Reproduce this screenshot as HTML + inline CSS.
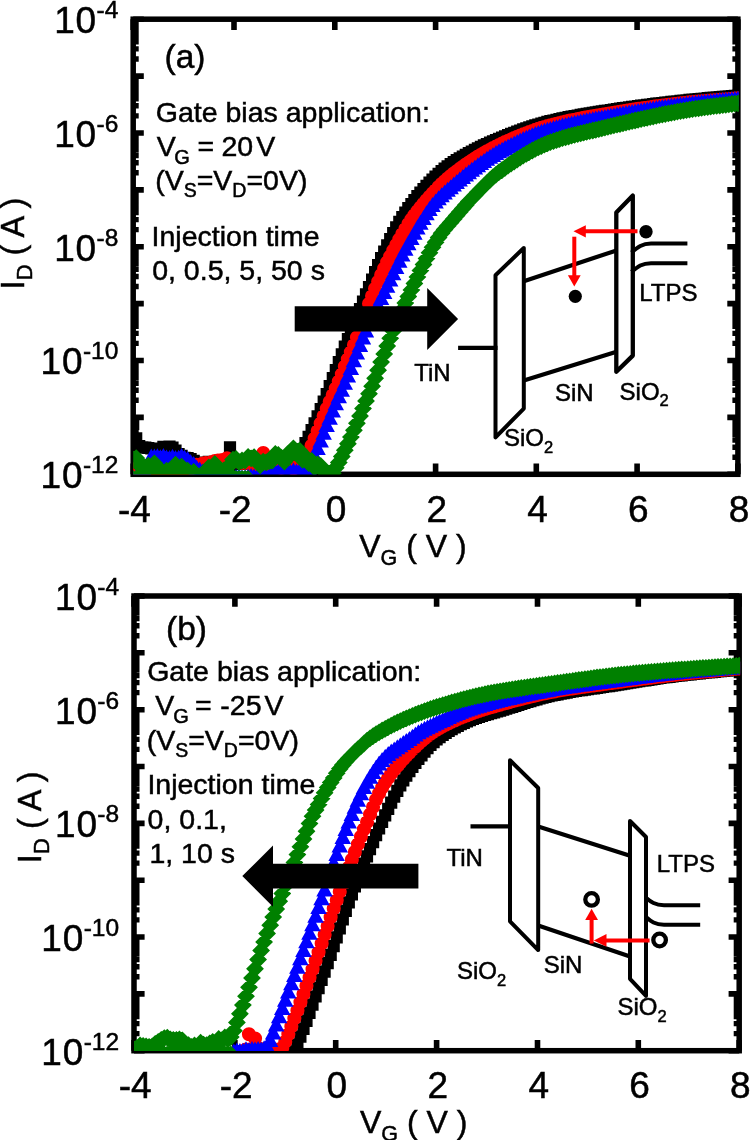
<!DOCTYPE html>
<html><head><meta charset="utf-8"><title>Transfer characteristics</title>
<style>html,body{margin:0;padding:0;background:#fff}svg{display:block}text{font-family:"Liberation Sans",sans-serif;fill:#000;stroke:#000;stroke-width:0.5px}</style>
</head><body>
<svg width="750" height="1140" viewBox="0 0 750 1140">
<rect width="750" height="1140" fill="#fff"/>
<defs>
<clipPath id="clipa"><rect x="133.2" y="19.2" width="605.7" height="455.4"/></clipPath>
<clipPath id="clipb"><rect x="134" y="596" width="606.2" height="455"/></clipPath>
</defs>
<rect x="133.2" y="19.2" width="604.7" height="455.1" fill="none" stroke="#000" stroke-width="5.5"/>
<path d="M133.2 474.3v-10.8M133.2 19.2v10.8M234 474.3v-10.8M234 19.2v10.8M334.8 474.3v-10.8M334.8 19.2v10.8M435.6 474.3v-10.8M435.6 19.2v10.8M536.3 474.3v-10.8M536.3 19.2v10.8M637.1 474.3v-10.8M637.1 19.2v10.8M737.9 474.3v-10.8M737.9 19.2v10.8M133.2 19.2h10.6M737.9 19.2h-10.6M133.2 76.1h10.6M737.9 76.1h-10.6M133.2 133h10.6M737.9 133h-10.6M133.2 189.9h10.6M737.9 189.9h-10.6M133.2 246.8h10.6M737.9 246.8h-10.6M133.2 303.6h10.6M737.9 303.6h-10.6M133.2 360.5h10.6M737.9 360.5h-10.6M133.2 417.4h10.6M737.9 417.4h-10.6M133.2 474.3h10.6M737.9 474.3h-10.6" stroke="#000" stroke-width="5.6" fill="none"/>
<path d="M133.2 59h5.5M737.9 59h-5.5M133.2 48.9h5.5M737.9 48.9h-5.5M133.2 41.8h5.5M737.9 41.8h-5.5M133.2 36.3h5.5M737.9 36.3h-5.5M133.2 31.8h5.5M737.9 31.8h-5.5M133.2 28h5.5M737.9 28h-5.5M133.2 24.7h5.5M737.9 24.7h-5.5M133.2 21.8h5.5M737.9 21.8h-5.5M133.2 115.9h5.5M737.9 115.9h-5.5M133.2 105.8h5.5M737.9 105.8h-5.5M133.2 98.7h5.5M737.9 98.7h-5.5M133.2 93.2h5.5M737.9 93.2h-5.5M133.2 88.7h5.5M737.9 88.7h-5.5M133.2 84.9h5.5M737.9 84.9h-5.5M133.2 81.6h5.5M737.9 81.6h-5.5M133.2 78.7h5.5M737.9 78.7h-5.5M133.2 172.7h5.5M737.9 172.7h-5.5M133.2 162.7h5.5M737.9 162.7h-5.5M133.2 155.6h5.5M737.9 155.6h-5.5M133.2 150.1h5.5M737.9 150.1h-5.5M133.2 145.6h5.5M737.9 145.6h-5.5M133.2 141.8h5.5M737.9 141.8h-5.5M133.2 138.5h5.5M737.9 138.5h-5.5M133.2 135.6h5.5M737.9 135.6h-5.5M133.2 229.6h5.5M737.9 229.6h-5.5M133.2 219.6h5.5M737.9 219.6h-5.5M133.2 212.5h5.5M737.9 212.5h-5.5M133.2 207h5.5M737.9 207h-5.5M133.2 202.5h5.5M737.9 202.5h-5.5M133.2 198.7h5.5M737.9 198.7h-5.5M133.2 195.4h5.5M737.9 195.4h-5.5M133.2 192.5h5.5M737.9 192.5h-5.5M133.2 286.5h5.5M737.9 286.5h-5.5M133.2 276.5h5.5M737.9 276.5h-5.5M133.2 269.4h5.5M737.9 269.4h-5.5M133.2 263.9h5.5M737.9 263.9h-5.5M133.2 259.4h5.5M737.9 259.4h-5.5M133.2 255.6h5.5M737.9 255.6h-5.5M133.2 252.3h5.5M737.9 252.3h-5.5M133.2 249.4h5.5M737.9 249.4h-5.5M133.2 343.4h5.5M737.9 343.4h-5.5M133.2 333.4h5.5M737.9 333.4h-5.5M133.2 326.3h5.5M737.9 326.3h-5.5M133.2 320.8h5.5M737.9 320.8h-5.5M133.2 316.3h5.5M737.9 316.3h-5.5M133.2 312.4h5.5M737.9 312.4h-5.5M133.2 309.2h5.5M737.9 309.2h-5.5M133.2 306.2h5.5M737.9 306.2h-5.5M133.2 400.3h5.5M737.9 400.3h-5.5M133.2 390.3h5.5M737.9 390.3h-5.5M133.2 383.2h5.5M737.9 383.2h-5.5M133.2 377.6h5.5M737.9 377.6h-5.5M133.2 373.1h5.5M737.9 373.1h-5.5M133.2 369.3h5.5M737.9 369.3h-5.5M133.2 366h5.5M737.9 366h-5.5M133.2 363.1h5.5M737.9 363.1h-5.5M133.2 457.2h5.5M737.9 457.2h-5.5M133.2 447.2h5.5M737.9 447.2h-5.5M133.2 440.1h5.5M737.9 440.1h-5.5M133.2 434.5h5.5M737.9 434.5h-5.5M133.2 430h5.5M737.9 430h-5.5M133.2 426.2h5.5M737.9 426.2h-5.5M133.2 422.9h5.5M737.9 422.9h-5.5M133.2 420h5.5M737.9 420h-5.5" stroke="#000" stroke-width="5.4" fill="none"/>
<text x="118.3" y="33.1" font-size="37" text-anchor="end"><tspan letter-spacing="0.9">10</tspan><tspan font-size="24.5" dy="-15" dx="-0.6">-4</tspan></text>
<text x="118.3" y="146.9" font-size="37" text-anchor="end"><tspan letter-spacing="0.9">10</tspan><tspan font-size="24.5" dy="-15" dx="-0.6">-6</tspan></text>
<text x="118.3" y="260.6" font-size="37" text-anchor="end"><tspan letter-spacing="0.9">10</tspan><tspan font-size="24.5" dy="-15" dx="-0.6">-8</tspan></text>
<text x="118.3" y="374.4" font-size="37" text-anchor="end"><tspan letter-spacing="0.9">10</tspan><tspan font-size="24.5" dy="-15" dx="-0.6">-10</tspan></text>
<text x="118.3" y="488.2" font-size="37" text-anchor="end"><tspan letter-spacing="0.9">10</tspan><tspan font-size="24.5" dy="-15" dx="-0.6">-12</tspan></text>
<text x="134.4" y="521.6" font-size="37" text-anchor="middle">-4</text>
<text x="235.2" y="521.6" font-size="37" text-anchor="middle">-2</text>
<text x="336" y="521.6" font-size="37" text-anchor="middle">0</text>
<text x="436.8" y="521.6" font-size="37" text-anchor="middle">2</text>
<text x="537.5" y="521.6" font-size="37" text-anchor="middle">4</text>
<text x="638.3" y="521.6" font-size="37" text-anchor="middle">6</text>
<text x="739.1" y="521.6" font-size="37" text-anchor="middle">8</text>
<text x="359.2" y="556.7" font-size="32">V<tspan font-size="21.5" dy="8">G</tspan><tspan dy="-8"> ( V )</tspan></text>
<rect x="134" y="596" width="605.2" height="454.7" fill="none" stroke="#000" stroke-width="5.5"/>
<path d="M134 1050.7v-10.8M134 596v10.8M234.9 1050.7v-10.8M234.9 596v10.8M335.7 1050.7v-10.8M335.7 596v10.8M436.6 1050.7v-10.8M436.6 596v10.8M537.5 1050.7v-10.8M537.5 596v10.8M638.3 1050.7v-10.8M638.3 596v10.8M739.2 1050.7v-10.8M739.2 596v10.8M134 596h10.6M739.2 596h-10.6M134 652.8h10.6M739.2 652.8h-10.6M134 709.7h10.6M739.2 709.7h-10.6M134 766.5h10.6M739.2 766.5h-10.6M134 823.4h10.6M739.2 823.4h-10.6M134 880.2h10.6M739.2 880.2h-10.6M134 937h10.6M739.2 937h-10.6M134 993.9h10.6M739.2 993.9h-10.6M134 1050.7h10.6M739.2 1050.7h-10.6" stroke="#000" stroke-width="5.6" fill="none"/>
<path d="M134 635.7h5.5M739.2 635.7h-5.5M134 625.7h5.5M739.2 625.7h-5.5M134 618.6h5.5M739.2 618.6h-5.5M134 613.1h5.5M739.2 613.1h-5.5M134 608.6h5.5M739.2 608.6h-5.5M134 604.8h5.5M739.2 604.8h-5.5M134 601.5h5.5M739.2 601.5h-5.5M134 598.6h5.5M739.2 598.6h-5.5M134 692.6h5.5M739.2 692.6h-5.5M134 682.6h5.5M739.2 682.6h-5.5M134 675.5h5.5M739.2 675.5h-5.5M134 669.9h5.5M739.2 669.9h-5.5M134 665.4h5.5M739.2 665.4h-5.5M134 661.6h5.5M739.2 661.6h-5.5M134 658.3h5.5M739.2 658.3h-5.5M134 655.4h5.5M739.2 655.4h-5.5M134 749.4h5.5M739.2 749.4h-5.5M134 739.4h5.5M739.2 739.4h-5.5M134 732.3h5.5M739.2 732.3h-5.5M134 726.8h5.5M739.2 726.8h-5.5M134 722.3h5.5M739.2 722.3h-5.5M134 718.5h5.5M739.2 718.5h-5.5M134 715.2h5.5M739.2 715.2h-5.5M134 712.3h5.5M739.2 712.3h-5.5M134 806.2h5.5M739.2 806.2h-5.5M134 796.2h5.5M739.2 796.2h-5.5M134 789.1h5.5M739.2 789.1h-5.5M134 783.6h5.5M739.2 783.6h-5.5M134 779.1h5.5M739.2 779.1h-5.5M134 775.3h5.5M739.2 775.3h-5.5M134 772h5.5M739.2 772h-5.5M134 769.1h5.5M739.2 769.1h-5.5M134 863.1h5.5M739.2 863.1h-5.5M134 853.1h5.5M739.2 853.1h-5.5M134 846h5.5M739.2 846h-5.5M134 840.5h5.5M739.2 840.5h-5.5M134 836h5.5M739.2 836h-5.5M134 832.2h5.5M739.2 832.2h-5.5M134 828.9h5.5M739.2 828.9h-5.5M134 826h5.5M739.2 826h-5.5M134 919.9h5.5M739.2 919.9h-5.5M134 909.9h5.5M739.2 909.9h-5.5M134 902.8h5.5M739.2 902.8h-5.5M134 897.3h5.5M739.2 897.3h-5.5M134 892.8h5.5M739.2 892.8h-5.5M134 889h5.5M739.2 889h-5.5M134 885.7h5.5M739.2 885.7h-5.5M134 882.8h5.5M739.2 882.8h-5.5M134 976.8h5.5M739.2 976.8h-5.5M134 966.7h5.5M739.2 966.7h-5.5M134 959.6h5.5M739.2 959.6h-5.5M134 954.1h5.5M739.2 954.1h-5.5M134 949.6h5.5M739.2 949.6h-5.5M134 945.8h5.5M739.2 945.8h-5.5M134 942.5h5.5M739.2 942.5h-5.5M134 939.6h5.5M739.2 939.6h-5.5M134 1033.6h5.5M739.2 1033.6h-5.5M134 1023.6h5.5M739.2 1023.6h-5.5M134 1016.5h5.5M739.2 1016.5h-5.5M134 1011h5.5M739.2 1011h-5.5M134 1006.5h5.5M739.2 1006.5h-5.5M134 1002.7h5.5M739.2 1002.7h-5.5M134 999.4h5.5M739.2 999.4h-5.5M134 996.5h5.5M739.2 996.5h-5.5" stroke="#000" stroke-width="5.4" fill="none"/>
<text x="119.1" y="609.9" font-size="37" text-anchor="end"><tspan letter-spacing="0.9">10</tspan><tspan font-size="24.5" dy="-15" dx="-0.6">-4</tspan></text>
<text x="119.1" y="723.6" font-size="37" text-anchor="end"><tspan letter-spacing="0.9">10</tspan><tspan font-size="24.5" dy="-15" dx="-0.6">-6</tspan></text>
<text x="119.1" y="837.2" font-size="37" text-anchor="end"><tspan letter-spacing="0.9">10</tspan><tspan font-size="24.5" dy="-15" dx="-0.6">-8</tspan></text>
<text x="119.1" y="950.9" font-size="37" text-anchor="end"><tspan letter-spacing="0.9">10</tspan><tspan font-size="24.5" dy="-15" dx="-0.6">-10</tspan></text>
<text x="119.1" y="1064.6" font-size="37" text-anchor="end"><tspan letter-spacing="0.9">10</tspan><tspan font-size="24.5" dy="-15" dx="-0.6">-12</tspan></text>
<text x="135.2" y="1098" font-size="37" text-anchor="middle">-4</text>
<text x="236.1" y="1098" font-size="37" text-anchor="middle">-2</text>
<text x="336.9" y="1098" font-size="37" text-anchor="middle">0</text>
<text x="437.8" y="1098" font-size="37" text-anchor="middle">2</text>
<text x="538.7" y="1098" font-size="37" text-anchor="middle">4</text>
<text x="639.5" y="1098" font-size="37" text-anchor="middle">6</text>
<text x="740.4" y="1098" font-size="37" text-anchor="middle">8</text>
<text x="360" y="1133.1" font-size="32">V<tspan font-size="21.5" dy="8">G</tspan><tspan dy="-8"> ( V )</tspan></text>
<g transform="translate(24 289.5) rotate(-90)" font-size="32.5">
<text x="0" y="0">I</text><text x="9.3" y="8" font-size="22">D</text><text x="34.1" y="0">(</text><text x="52" y="0">A</text><text x="80.9" y="0">)</text>
</g>
<g transform="translate(40.5 863.2) rotate(-90)" font-size="32.5">
<text x="0" y="0">I</text><text x="9.3" y="8" font-size="22">D</text><text x="34.1" y="0">(</text><text x="52" y="0">A</text><text x="80.9" y="0">)</text>
</g>
<g clip-path="url(#clipa)">
<path fill="#000" d="M127.1 417.8h12.2v12.2h-12.2zM130.1 432.3h12.2v12.2h-12.2zM133.1 440.1h12.2v12.2h-12.2zM136.2 441.2h12.2v12.2h-12.2zM139.2 441.5h12.2v12.2h-12.2zM142.2 441.9h12.2v12.2h-12.2zM145.2 442.4h12.2v12.2h-12.2zM148.3 442.7h12.2v12.2h-12.2zM151.3 442.7h12.2v12.2h-12.2zM154.3 442.6h12.2v12.2h-12.2zM157.3 440.8h12.2v12.2h-12.2zM160.4 441.2h12.2v12.2h-12.2zM163.4 440.4h12.2v12.2h-12.2zM166.4 441.5h12.2v12.2h-12.2zM169.4 444.4h12.2v12.2h-12.2zM172.5 448.1h12.2v12.2h-12.2zM175.5 449.7h12.2v12.2h-12.2zM178.5 451.8h12.2v12.2h-12.2zM181.5 452h12.2v12.2h-12.2zM184.5 453h12.2v12.2h-12.2zM187.6 454.7h12.2v12.2h-12.2zM190.6 456.6h12.2v12.2h-12.2zM193.6 458.5h12.2v12.2h-12.2zM196.6 458.6h12.2v12.2h-12.2zM199.7 457.6h12.2v12.2h-12.2zM202.7 455.8h12.2v12.2h-12.2zM205.7 458h12.2v12.2h-12.2zM208.7 458h12.2v12.2h-12.2zM211.8 458h12.2v12.2h-12.2zM214.8 458.9h12.2v12.2h-12.2zM217.8 457.4h12.2v12.2h-12.2zM220.8 457.7h12.2v12.2h-12.2zM223.9 441.2h12.2v12.2h-12.2zM226.9 457.7h12.2v12.2h-12.2zM229.9 457.9h12.2v12.2h-12.2zM232.9 457.2h12.2v12.2h-12.2zM235.9 457.7h12.2v12.2h-12.2zM239 457.9h12.2v12.2h-12.2zM242 456.5h12.2v12.2h-12.2zM245 457.6h12.2v12.2h-12.2zM248 457.9h12.2v12.2h-12.2zM251.1 457.4h12.2v12.2h-12.2zM254.1 456.5h12.2v12.2h-12.2zM257.1 457.4h12.2v12.2h-12.2zM260.1 456.3h12.2v12.2h-12.2zM263.2 456.8h12.2v12.2h-12.2zM266.2 457.6h12.2v12.2h-12.2zM269.2 456.6h12.2v12.2h-12.2zM272.2 456.6h12.2v12.2h-12.2zM275.3 456.3h12.2v12.2h-12.2zM278.3 456.1h12.2v12.2h-12.2zM281.3 457h12.2v12.2h-12.2zM284.3 455.9h12.2v12.2h-12.2zM287.3 455.1h12.2v12.2h-12.2zM290.4 453h12.2v12.2h-12.2zM293.4 448.6h12.2v12.2h-12.2zM296.4 443.2h12.2v12.2h-12.2zM299.4 437.1h12.2v12.2h-12.2zM302.5 430.8h12.2v12.2h-12.2zM305.5 424.1h12.2v12.2h-12.2zM308.5 417.2h12.2v12.2h-12.2zM311.5 410.2h12.2v12.2h-12.2zM314.6 402.9h12.2v12.2h-12.2zM317.6 395.6h12.2v12.2h-12.2zM320.6 388.1h12.2v12.2h-12.2zM323.6 380.1h12.2v12.2h-12.2zM326.7 372h12.2v12.2h-12.2zM329.7 363.9h12.2v12.2h-12.2zM332.7 356h12.2v12.2h-12.2zM335.7 348.2h12.2v12.2h-12.2zM338.7 340.5h12.2v12.2h-12.2zM341.8 332.9h12.2v12.2h-12.2zM344.8 325.3h12.2v12.2h-12.2zM347.8 317.8h12.2v12.2h-12.2zM350.8 310.4h12.2v12.2h-12.2zM353.9 303h12.2v12.2h-12.2zM356.9 295.6h12.2v12.2h-12.2zM359.9 288.3h12.2v12.2h-12.2zM362.9 280.9h12.2v12.2h-12.2zM366 273.4h12.2v12.2h-12.2zM369 266.1h12.2v12.2h-12.2zM372 258.9h12.2v12.2h-12.2zM375 252.1h12.2v12.2h-12.2zM378.1 245.6h12.2v12.2h-12.2zM381.1 239.2h12.2v12.2h-12.2zM384.1 233h12.2v12.2h-12.2zM387.1 227h12.2v12.2h-12.2zM390.1 221.2h12.2v12.2h-12.2zM393.2 215.8h12.2v12.2h-12.2zM396.2 210.9h12.2v12.2h-12.2zM399.2 206.4h12.2v12.2h-12.2zM402.2 202.1h12.2v12.2h-12.2zM405.3 197.9h12.2v12.2h-12.2zM408.3 194h12.2v12.2h-12.2zM411.3 190.1h12.2v12.2h-12.2zM414.3 186.5h12.2v12.2h-12.2zM417.4 183h12.2v12.2h-12.2zM420.4 179.7h12.2v12.2h-12.2zM423.4 176.5h12.2v12.2h-12.2zM426.4 173.4h12.2v12.2h-12.2zM429.4 170.5h12.2v12.2h-12.2zM432.5 167.7h12.2v12.2h-12.2zM435.5 165.1h12.2v12.2h-12.2zM438.5 162.6h12.2v12.2h-12.2zM441.5 160.2h12.2v12.2h-12.2zM444.6 158h12.2v12.2h-12.2zM447.6 155.9h12.2v12.2h-12.2zM450.6 154h12.2v12.2h-12.2zM453.6 152.2h12.2v12.2h-12.2zM456.7 150.4h12.2v12.2h-12.2zM459.7 148.7h12.2v12.2h-12.2zM462.7 147h12.2v12.2h-12.2zM465.7 145.4h12.2v12.2h-12.2zM468.8 143.8h12.2v12.2h-12.2zM471.8 142.3h12.2v12.2h-12.2zM474.8 140.8h12.2v12.2h-12.2zM477.8 139.3h12.2v12.2h-12.2zM480.8 137.9h12.2v12.2h-12.2zM483.9 136.6h12.2v12.2h-12.2zM486.9 135.2h12.2v12.2h-12.2zM489.9 133.9h12.2v12.2h-12.2zM492.9 132.7h12.2v12.2h-12.2zM496 131.4h12.2v12.2h-12.2zM499 130.2h12.2v12.2h-12.2zM502 129h12.2v12.2h-12.2zM505 127.8h12.2v12.2h-12.2zM508.1 126.7h12.2v12.2h-12.2zM511.1 125.5h12.2v12.2h-12.2zM514.1 124.4h12.2v12.2h-12.2zM517.1 123.3h12.2v12.2h-12.2zM520.2 122.3h12.2v12.2h-12.2zM523.2 121.3h12.2v12.2h-12.2zM526.2 120.3h12.2v12.2h-12.2zM529.2 119.3h12.2v12.2h-12.2zM532.2 118.4h12.2v12.2h-12.2zM535.3 117.5h12.2v12.2h-12.2zM538.3 116.7h12.2v12.2h-12.2zM541.3 115.8h12.2v12.2h-12.2zM544.3 115.1h12.2v12.2h-12.2zM547.4 114.4h12.2v12.2h-12.2zM550.4 113.7h12.2v12.2h-12.2zM553.4 113h12.2v12.2h-12.2zM556.4 112.3h12.2v12.2h-12.2zM559.5 111.7h12.2v12.2h-12.2zM562.5 111.1h12.2v12.2h-12.2zM565.5 110.5h12.2v12.2h-12.2zM568.5 109.9h12.2v12.2h-12.2zM571.6 109.4h12.2v12.2h-12.2zM574.6 108.8h12.2v12.2h-12.2zM577.6 108.3h12.2v12.2h-12.2zM580.6 107.8h12.2v12.2h-12.2zM583.6 107.3h12.2v12.2h-12.2zM586.7 106.8h12.2v12.2h-12.2zM589.7 106.3h12.2v12.2h-12.2zM592.7 105.8h12.2v12.2h-12.2zM595.7 105.3h12.2v12.2h-12.2zM598.8 104.8h12.2v12.2h-12.2zM601.8 104.4h12.2v12.2h-12.2zM604.8 103.9h12.2v12.2h-12.2zM607.8 103.4h12.2v12.2h-12.2zM610.9 103h12.2v12.2h-12.2zM613.9 102.6h12.2v12.2h-12.2zM616.9 102.1h12.2v12.2h-12.2zM619.9 101.7h12.2v12.2h-12.2zM623 101.3h12.2v12.2h-12.2zM626 100.8h12.2v12.2h-12.2zM629 100.4h12.2v12.2h-12.2zM632 100h12.2v12.2h-12.2zM635 99.6h12.2v12.2h-12.2zM638.1 99.2h12.2v12.2h-12.2zM641.1 98.8h12.2v12.2h-12.2zM644.1 98.4h12.2v12.2h-12.2zM647.1 98h12.2v12.2h-12.2zM650.2 97.6h12.2v12.2h-12.2zM653.2 97.3h12.2v12.2h-12.2zM656.2 96.9h12.2v12.2h-12.2zM659.2 96.5h12.2v12.2h-12.2zM662.3 96.2h12.2v12.2h-12.2zM665.3 95.8h12.2v12.2h-12.2zM668.3 95.5h12.2v12.2h-12.2zM671.3 95.2h12.2v12.2h-12.2zM674.4 94.8h12.2v12.2h-12.2zM677.4 94.5h12.2v12.2h-12.2zM680.4 94.2h12.2v12.2h-12.2zM683.4 93.8h12.2v12.2h-12.2zM686.4 93.5h12.2v12.2h-12.2zM689.5 93.2h12.2v12.2h-12.2zM692.5 92.9h12.2v12.2h-12.2zM695.5 92.7h12.2v12.2h-12.2zM698.5 92.4h12.2v12.2h-12.2zM701.6 92.1h12.2v12.2h-12.2zM704.6 91.8h12.2v12.2h-12.2zM707.6 91.6h12.2v12.2h-12.2zM710.6 91.3h12.2v12.2h-12.2zM713.7 91h12.2v12.2h-12.2zM716.7 90.8h12.2v12.2h-12.2zM719.7 90.5h12.2v12.2h-12.2zM722.7 90.3h12.2v12.2h-12.2zM725.8 90h12.2v12.2h-12.2zM728.8 89.8h12.2v12.2h-12.2zM731.8 89.5h12.2v12.2h-12.2z"/>
<path fill="#ff0000" d="M126.1 469.8a7.05 7.05 0 1 0 14.1 0a7.05 7.05 0 1 0 -14.1 0zM129.2 468.9a7.05 7.05 0 1 0 14.1 0a7.05 7.05 0 1 0 -14.1 0zM132.2 470.1a7.05 7.05 0 1 0 14.1 0a7.05 7.05 0 1 0 -14.1 0zM135.2 469.8a7.05 7.05 0 1 0 14.1 0a7.05 7.05 0 1 0 -14.1 0zM138.2 469.8a7.05 7.05 0 1 0 14.1 0a7.05 7.05 0 1 0 -14.1 0zM141.3 469.6a7.05 7.05 0 1 0 14.1 0a7.05 7.05 0 1 0 -14.1 0zM144.3 469.3a7.05 7.05 0 1 0 14.1 0a7.05 7.05 0 1 0 -14.1 0zM147.3 470.3a7.05 7.05 0 1 0 14.1 0a7.05 7.05 0 1 0 -14.1 0zM150.3 469.5a7.05 7.05 0 1 0 14.1 0a7.05 7.05 0 1 0 -14.1 0zM153.4 469.4a7.05 7.05 0 1 0 14.1 0a7.05 7.05 0 1 0 -14.1 0zM156.4 470.3a7.05 7.05 0 1 0 14.1 0a7.05 7.05 0 1 0 -14.1 0zM159.4 470.1a7.05 7.05 0 1 0 14.1 0a7.05 7.05 0 1 0 -14.1 0zM162.4 469.1a7.05 7.05 0 1 0 14.1 0a7.05 7.05 0 1 0 -14.1 0zM165.5 470a7.05 7.05 0 1 0 14.1 0a7.05 7.05 0 1 0 -14.1 0zM168.5 469.2a7.05 7.05 0 1 0 14.1 0a7.05 7.05 0 1 0 -14.1 0zM171.5 470.7a7.05 7.05 0 1 0 14.1 0a7.05 7.05 0 1 0 -14.1 0zM174.5 470.8a7.05 7.05 0 1 0 14.1 0a7.05 7.05 0 1 0 -14.1 0zM177.5 470a7.05 7.05 0 1 0 14.1 0a7.05 7.05 0 1 0 -14.1 0zM180.6 470.8a7.05 7.05 0 1 0 14.1 0a7.05 7.05 0 1 0 -14.1 0zM183.6 468.6a7.05 7.05 0 1 0 14.1 0a7.05 7.05 0 1 0 -14.1 0zM186.6 467.6a7.05 7.05 0 1 0 14.1 0a7.05 7.05 0 1 0 -14.1 0zM189.6 464.8a7.05 7.05 0 1 0 14.1 0a7.05 7.05 0 1 0 -14.1 0zM192.7 465a7.05 7.05 0 1 0 14.1 0a7.05 7.05 0 1 0 -14.1 0zM195.7 463.6a7.05 7.05 0 1 0 14.1 0a7.05 7.05 0 1 0 -14.1 0zM198.7 463a7.05 7.05 0 1 0 14.1 0a7.05 7.05 0 1 0 -14.1 0zM201.7 463.5a7.05 7.05 0 1 0 14.1 0a7.05 7.05 0 1 0 -14.1 0zM204.8 462a7.05 7.05 0 1 0 14.1 0a7.05 7.05 0 1 0 -14.1 0zM207.8 461.1a7.05 7.05 0 1 0 14.1 0a7.05 7.05 0 1 0 -14.1 0zM210.8 460.6a7.05 7.05 0 1 0 14.1 0a7.05 7.05 0 1 0 -14.1 0zM213.8 460.2a7.05 7.05 0 1 0 14.1 0a7.05 7.05 0 1 0 -14.1 0zM216.9 459.7a7.05 7.05 0 1 0 14.1 0a7.05 7.05 0 1 0 -14.1 0zM219.9 458.3a7.05 7.05 0 1 0 14.1 0a7.05 7.05 0 1 0 -14.1 0zM222.9 460a7.05 7.05 0 1 0 14.1 0a7.05 7.05 0 1 0 -14.1 0zM225.9 460.3a7.05 7.05 0 1 0 14.1 0a7.05 7.05 0 1 0 -14.1 0zM228.9 461.1a7.05 7.05 0 1 0 14.1 0a7.05 7.05 0 1 0 -14.1 0zM232 461.5a7.05 7.05 0 1 0 14.1 0a7.05 7.05 0 1 0 -14.1 0zM235 463a7.05 7.05 0 1 0 14.1 0a7.05 7.05 0 1 0 -14.1 0zM238 463a7.05 7.05 0 1 0 14.1 0a7.05 7.05 0 1 0 -14.1 0zM241 462.5a7.05 7.05 0 1 0 14.1 0a7.05 7.05 0 1 0 -14.1 0zM244.1 464.2a7.05 7.05 0 1 0 14.1 0a7.05 7.05 0 1 0 -14.1 0zM247.1 465.3a7.05 7.05 0 1 0 14.1 0a7.05 7.05 0 1 0 -14.1 0zM250.1 464.7a7.05 7.05 0 1 0 14.1 0a7.05 7.05 0 1 0 -14.1 0zM253.1 466a7.05 7.05 0 1 0 14.1 0a7.05 7.05 0 1 0 -14.1 0zM256.2 453a7.05 7.05 0 1 0 14.1 0a7.05 7.05 0 1 0 -14.1 0zM259.2 465.7a7.05 7.05 0 1 0 14.1 0a7.05 7.05 0 1 0 -14.1 0zM262.2 465.6a7.05 7.05 0 1 0 14.1 0a7.05 7.05 0 1 0 -14.1 0zM265.2 465.8a7.05 7.05 0 1 0 14.1 0a7.05 7.05 0 1 0 -14.1 0zM268.3 466.9a7.05 7.05 0 1 0 14.1 0a7.05 7.05 0 1 0 -14.1 0zM271.3 466.5a7.05 7.05 0 1 0 14.1 0a7.05 7.05 0 1 0 -14.1 0zM274.3 467.7a7.05 7.05 0 1 0 14.1 0a7.05 7.05 0 1 0 -14.1 0zM277.3 467a7.05 7.05 0 1 0 14.1 0a7.05 7.05 0 1 0 -14.1 0zM280.3 466.1a7.05 7.05 0 1 0 14.1 0a7.05 7.05 0 1 0 -14.1 0zM283.4 466.9a7.05 7.05 0 1 0 14.1 0a7.05 7.05 0 1 0 -14.1 0zM286.4 468.2a7.05 7.05 0 1 0 14.1 0a7.05 7.05 0 1 0 -14.1 0zM289.4 467a7.05 7.05 0 1 0 14.1 0a7.05 7.05 0 1 0 -14.1 0zM292.4 465.5a7.05 7.05 0 1 0 14.1 0a7.05 7.05 0 1 0 -14.1 0zM295.5 463.5a7.05 7.05 0 1 0 14.1 0a7.05 7.05 0 1 0 -14.1 0zM298.5 458.8a7.05 7.05 0 1 0 14.1 0a7.05 7.05 0 1 0 -14.1 0zM301.5 452.9a7.05 7.05 0 1 0 14.1 0a7.05 7.05 0 1 0 -14.1 0zM304.5 445.8a7.05 7.05 0 1 0 14.1 0a7.05 7.05 0 1 0 -14.1 0zM307.6 438.5a7.05 7.05 0 1 0 14.1 0a7.05 7.05 0 1 0 -14.1 0zM310.6 431a7.05 7.05 0 1 0 14.1 0a7.05 7.05 0 1 0 -14.1 0zM313.6 423.4a7.05 7.05 0 1 0 14.1 0a7.05 7.05 0 1 0 -14.1 0zM316.6 416a7.05 7.05 0 1 0 14.1 0a7.05 7.05 0 1 0 -14.1 0zM319.7 408.8a7.05 7.05 0 1 0 14.1 0a7.05 7.05 0 1 0 -14.1 0zM322.7 401.7a7.05 7.05 0 1 0 14.1 0a7.05 7.05 0 1 0 -14.1 0zM325.7 395a7.05 7.05 0 1 0 14.1 0a7.05 7.05 0 1 0 -14.1 0zM328.7 388.5a7.05 7.05 0 1 0 14.1 0a7.05 7.05 0 1 0 -14.1 0zM331.7 381.6a7.05 7.05 0 1 0 14.1 0a7.05 7.05 0 1 0 -14.1 0zM334.8 374.2a7.05 7.05 0 1 0 14.1 0a7.05 7.05 0 1 0 -14.1 0zM337.8 366.6a7.05 7.05 0 1 0 14.1 0a7.05 7.05 0 1 0 -14.1 0zM340.8 359.3a7.05 7.05 0 1 0 14.1 0a7.05 7.05 0 1 0 -14.1 0zM343.8 352.3a7.05 7.05 0 1 0 14.1 0a7.05 7.05 0 1 0 -14.1 0zM346.9 345.1a7.05 7.05 0 1 0 14.1 0a7.05 7.05 0 1 0 -14.1 0zM349.9 337.4a7.05 7.05 0 1 0 14.1 0a7.05 7.05 0 1 0 -14.1 0zM352.9 329.1a7.05 7.05 0 1 0 14.1 0a7.05 7.05 0 1 0 -14.1 0zM355.9 320.6a7.05 7.05 0 1 0 14.1 0a7.05 7.05 0 1 0 -14.1 0zM359 312.1a7.05 7.05 0 1 0 14.1 0a7.05 7.05 0 1 0 -14.1 0zM362 303.8a7.05 7.05 0 1 0 14.1 0a7.05 7.05 0 1 0 -14.1 0zM365 296a7.05 7.05 0 1 0 14.1 0a7.05 7.05 0 1 0 -14.1 0zM368 288.7a7.05 7.05 0 1 0 14.1 0a7.05 7.05 0 1 0 -14.1 0zM371.1 281.8a7.05 7.05 0 1 0 14.1 0a7.05 7.05 0 1 0 -14.1 0zM374.1 275a7.05 7.05 0 1 0 14.1 0a7.05 7.05 0 1 0 -14.1 0zM377.1 268.6a7.05 7.05 0 1 0 14.1 0a7.05 7.05 0 1 0 -14.1 0zM380.1 262.3a7.05 7.05 0 1 0 14.1 0a7.05 7.05 0 1 0 -14.1 0zM383.1 256.4a7.05 7.05 0 1 0 14.1 0a7.05 7.05 0 1 0 -14.1 0zM386.2 250.6a7.05 7.05 0 1 0 14.1 0a7.05 7.05 0 1 0 -14.1 0zM389.2 245a7.05 7.05 0 1 0 14.1 0a7.05 7.05 0 1 0 -14.1 0zM392.2 239.5a7.05 7.05 0 1 0 14.1 0a7.05 7.05 0 1 0 -14.1 0zM395.2 234.1a7.05 7.05 0 1 0 14.1 0a7.05 7.05 0 1 0 -14.1 0zM398.3 229a7.05 7.05 0 1 0 14.1 0a7.05 7.05 0 1 0 -14.1 0zM401.3 224.1a7.05 7.05 0 1 0 14.1 0a7.05 7.05 0 1 0 -14.1 0zM404.3 219.5a7.05 7.05 0 1 0 14.1 0a7.05 7.05 0 1 0 -14.1 0zM407.3 215.2a7.05 7.05 0 1 0 14.1 0a7.05 7.05 0 1 0 -14.1 0zM410.4 211.3a7.05 7.05 0 1 0 14.1 0a7.05 7.05 0 1 0 -14.1 0zM413.4 207.4a7.05 7.05 0 1 0 14.1 0a7.05 7.05 0 1 0 -14.1 0zM416.4 203.7a7.05 7.05 0 1 0 14.1 0a7.05 7.05 0 1 0 -14.1 0zM419.4 200.2a7.05 7.05 0 1 0 14.1 0a7.05 7.05 0 1 0 -14.1 0zM422.5 196.7a7.05 7.05 0 1 0 14.1 0a7.05 7.05 0 1 0 -14.1 0zM425.5 193.4a7.05 7.05 0 1 0 14.1 0a7.05 7.05 0 1 0 -14.1 0zM428.5 190.2a7.05 7.05 0 1 0 14.1 0a7.05 7.05 0 1 0 -14.1 0zM431.5 187.1a7.05 7.05 0 1 0 14.1 0a7.05 7.05 0 1 0 -14.1 0zM434.5 184.1a7.05 7.05 0 1 0 14.1 0a7.05 7.05 0 1 0 -14.1 0zM437.6 181.3a7.05 7.05 0 1 0 14.1 0a7.05 7.05 0 1 0 -14.1 0zM440.6 178.6a7.05 7.05 0 1 0 14.1 0a7.05 7.05 0 1 0 -14.1 0zM443.6 176a7.05 7.05 0 1 0 14.1 0a7.05 7.05 0 1 0 -14.1 0zM446.6 173.6a7.05 7.05 0 1 0 14.1 0a7.05 7.05 0 1 0 -14.1 0zM449.7 171.2a7.05 7.05 0 1 0 14.1 0a7.05 7.05 0 1 0 -14.1 0zM452.7 168.9a7.05 7.05 0 1 0 14.1 0a7.05 7.05 0 1 0 -14.1 0zM455.7 166.7a7.05 7.05 0 1 0 14.1 0a7.05 7.05 0 1 0 -14.1 0zM458.7 164.6a7.05 7.05 0 1 0 14.1 0a7.05 7.05 0 1 0 -14.1 0zM461.8 162.5a7.05 7.05 0 1 0 14.1 0a7.05 7.05 0 1 0 -14.1 0zM464.8 160.5a7.05 7.05 0 1 0 14.1 0a7.05 7.05 0 1 0 -14.1 0zM467.8 158.5a7.05 7.05 0 1 0 14.1 0a7.05 7.05 0 1 0 -14.1 0zM470.8 156.6a7.05 7.05 0 1 0 14.1 0a7.05 7.05 0 1 0 -14.1 0zM473.9 154.8a7.05 7.05 0 1 0 14.1 0a7.05 7.05 0 1 0 -14.1 0zM476.9 153a7.05 7.05 0 1 0 14.1 0a7.05 7.05 0 1 0 -14.1 0zM479.9 151.3a7.05 7.05 0 1 0 14.1 0a7.05 7.05 0 1 0 -14.1 0zM482.9 149.7a7.05 7.05 0 1 0 14.1 0a7.05 7.05 0 1 0 -14.1 0zM485.9 148a7.05 7.05 0 1 0 14.1 0a7.05 7.05 0 1 0 -14.1 0zM489 146.5a7.05 7.05 0 1 0 14.1 0a7.05 7.05 0 1 0 -14.1 0zM492 145a7.05 7.05 0 1 0 14.1 0a7.05 7.05 0 1 0 -14.1 0zM495 143.5a7.05 7.05 0 1 0 14.1 0a7.05 7.05 0 1 0 -14.1 0zM498 142.1a7.05 7.05 0 1 0 14.1 0a7.05 7.05 0 1 0 -14.1 0zM501.1 140.8a7.05 7.05 0 1 0 14.1 0a7.05 7.05 0 1 0 -14.1 0zM504.1 139.4a7.05 7.05 0 1 0 14.1 0a7.05 7.05 0 1 0 -14.1 0zM507.1 138.1a7.05 7.05 0 1 0 14.1 0a7.05 7.05 0 1 0 -14.1 0zM510.1 136.8a7.05 7.05 0 1 0 14.1 0a7.05 7.05 0 1 0 -14.1 0zM513.2 135.6a7.05 7.05 0 1 0 14.1 0a7.05 7.05 0 1 0 -14.1 0zM516.2 134.4a7.05 7.05 0 1 0 14.1 0a7.05 7.05 0 1 0 -14.1 0zM519.2 133.2a7.05 7.05 0 1 0 14.1 0a7.05 7.05 0 1 0 -14.1 0zM522.2 132a7.05 7.05 0 1 0 14.1 0a7.05 7.05 0 1 0 -14.1 0zM525.3 131a7.05 7.05 0 1 0 14.1 0a7.05 7.05 0 1 0 -14.1 0zM528.3 129.9a7.05 7.05 0 1 0 14.1 0a7.05 7.05 0 1 0 -14.1 0zM531.3 128.9a7.05 7.05 0 1 0 14.1 0a7.05 7.05 0 1 0 -14.1 0zM534.3 127.9a7.05 7.05 0 1 0 14.1 0a7.05 7.05 0 1 0 -14.1 0zM537.3 127a7.05 7.05 0 1 0 14.1 0a7.05 7.05 0 1 0 -14.1 0zM540.4 126.1a7.05 7.05 0 1 0 14.1 0a7.05 7.05 0 1 0 -14.1 0zM543.4 125.3a7.05 7.05 0 1 0 14.1 0a7.05 7.05 0 1 0 -14.1 0zM546.4 124.5a7.05 7.05 0 1 0 14.1 0a7.05 7.05 0 1 0 -14.1 0zM549.4 123.7a7.05 7.05 0 1 0 14.1 0a7.05 7.05 0 1 0 -14.1 0zM552.5 123a7.05 7.05 0 1 0 14.1 0a7.05 7.05 0 1 0 -14.1 0zM555.5 122.3a7.05 7.05 0 1 0 14.1 0a7.05 7.05 0 1 0 -14.1 0zM558.5 121.6a7.05 7.05 0 1 0 14.1 0a7.05 7.05 0 1 0 -14.1 0zM561.5 120.9a7.05 7.05 0 1 0 14.1 0a7.05 7.05 0 1 0 -14.1 0zM564.6 120.3a7.05 7.05 0 1 0 14.1 0a7.05 7.05 0 1 0 -14.1 0zM567.6 119.7a7.05 7.05 0 1 0 14.1 0a7.05 7.05 0 1 0 -14.1 0zM570.6 119.1a7.05 7.05 0 1 0 14.1 0a7.05 7.05 0 1 0 -14.1 0zM573.6 118.5a7.05 7.05 0 1 0 14.1 0a7.05 7.05 0 1 0 -14.1 0zM576.7 117.9a7.05 7.05 0 1 0 14.1 0a7.05 7.05 0 1 0 -14.1 0zM579.7 117.3a7.05 7.05 0 1 0 14.1 0a7.05 7.05 0 1 0 -14.1 0zM582.7 116.8a7.05 7.05 0 1 0 14.1 0a7.05 7.05 0 1 0 -14.1 0zM585.7 116.3a7.05 7.05 0 1 0 14.1 0a7.05 7.05 0 1 0 -14.1 0zM588.7 115.7a7.05 7.05 0 1 0 14.1 0a7.05 7.05 0 1 0 -14.1 0zM591.8 115.2a7.05 7.05 0 1 0 14.1 0a7.05 7.05 0 1 0 -14.1 0zM594.8 114.7a7.05 7.05 0 1 0 14.1 0a7.05 7.05 0 1 0 -14.1 0zM597.8 114.2a7.05 7.05 0 1 0 14.1 0a7.05 7.05 0 1 0 -14.1 0zM600.8 113.7a7.05 7.05 0 1 0 14.1 0a7.05 7.05 0 1 0 -14.1 0zM603.9 113.2a7.05 7.05 0 1 0 14.1 0a7.05 7.05 0 1 0 -14.1 0zM606.9 112.7a7.05 7.05 0 1 0 14.1 0a7.05 7.05 0 1 0 -14.1 0zM609.9 112.2a7.05 7.05 0 1 0 14.1 0a7.05 7.05 0 1 0 -14.1 0zM612.9 111.7a7.05 7.05 0 1 0 14.1 0a7.05 7.05 0 1 0 -14.1 0zM616 111.2a7.05 7.05 0 1 0 14.1 0a7.05 7.05 0 1 0 -14.1 0zM619 110.8a7.05 7.05 0 1 0 14.1 0a7.05 7.05 0 1 0 -14.1 0zM622 110.3a7.05 7.05 0 1 0 14.1 0a7.05 7.05 0 1 0 -14.1 0zM625 109.8a7.05 7.05 0 1 0 14.1 0a7.05 7.05 0 1 0 -14.1 0zM628.1 109.4a7.05 7.05 0 1 0 14.1 0a7.05 7.05 0 1 0 -14.1 0zM631.1 108.9a7.05 7.05 0 1 0 14.1 0a7.05 7.05 0 1 0 -14.1 0zM634.1 108.5a7.05 7.05 0 1 0 14.1 0a7.05 7.05 0 1 0 -14.1 0zM637.1 108.1a7.05 7.05 0 1 0 14.1 0a7.05 7.05 0 1 0 -14.1 0zM640.1 107.7a7.05 7.05 0 1 0 14.1 0a7.05 7.05 0 1 0 -14.1 0zM643.2 107.2a7.05 7.05 0 1 0 14.1 0a7.05 7.05 0 1 0 -14.1 0zM646.2 106.8a7.05 7.05 0 1 0 14.1 0a7.05 7.05 0 1 0 -14.1 0zM649.2 106.4a7.05 7.05 0 1 0 14.1 0a7.05 7.05 0 1 0 -14.1 0zM652.2 106a7.05 7.05 0 1 0 14.1 0a7.05 7.05 0 1 0 -14.1 0zM655.3 105.6a7.05 7.05 0 1 0 14.1 0a7.05 7.05 0 1 0 -14.1 0zM658.3 105.2a7.05 7.05 0 1 0 14.1 0a7.05 7.05 0 1 0 -14.1 0zM661.3 104.9a7.05 7.05 0 1 0 14.1 0a7.05 7.05 0 1 0 -14.1 0zM664.3 104.5a7.05 7.05 0 1 0 14.1 0a7.05 7.05 0 1 0 -14.1 0zM667.4 104.1a7.05 7.05 0 1 0 14.1 0a7.05 7.05 0 1 0 -14.1 0zM670.4 103.8a7.05 7.05 0 1 0 14.1 0a7.05 7.05 0 1 0 -14.1 0zM673.4 103.4a7.05 7.05 0 1 0 14.1 0a7.05 7.05 0 1 0 -14.1 0zM676.4 103.1a7.05 7.05 0 1 0 14.1 0a7.05 7.05 0 1 0 -14.1 0zM679.5 102.8a7.05 7.05 0 1 0 14.1 0a7.05 7.05 0 1 0 -14.1 0zM682.5 102.4a7.05 7.05 0 1 0 14.1 0a7.05 7.05 0 1 0 -14.1 0zM685.5 102.1a7.05 7.05 0 1 0 14.1 0a7.05 7.05 0 1 0 -14.1 0zM688.5 101.8a7.05 7.05 0 1 0 14.1 0a7.05 7.05 0 1 0 -14.1 0zM691.5 101.5a7.05 7.05 0 1 0 14.1 0a7.05 7.05 0 1 0 -14.1 0zM694.6 101.3a7.05 7.05 0 1 0 14.1 0a7.05 7.05 0 1 0 -14.1 0zM697.6 101a7.05 7.05 0 1 0 14.1 0a7.05 7.05 0 1 0 -14.1 0zM700.6 100.7a7.05 7.05 0 1 0 14.1 0a7.05 7.05 0 1 0 -14.1 0zM703.6 100.5a7.05 7.05 0 1 0 14.1 0a7.05 7.05 0 1 0 -14.1 0zM706.7 100.2a7.05 7.05 0 1 0 14.1 0a7.05 7.05 0 1 0 -14.1 0zM709.7 100a7.05 7.05 0 1 0 14.1 0a7.05 7.05 0 1 0 -14.1 0zM712.7 99.7a7.05 7.05 0 1 0 14.1 0a7.05 7.05 0 1 0 -14.1 0zM715.7 99.5a7.05 7.05 0 1 0 14.1 0a7.05 7.05 0 1 0 -14.1 0zM718.8 99.2a7.05 7.05 0 1 0 14.1 0a7.05 7.05 0 1 0 -14.1 0zM721.8 99a7.05 7.05 0 1 0 14.1 0a7.05 7.05 0 1 0 -14.1 0zM724.8 98.7a7.05 7.05 0 1 0 14.1 0a7.05 7.05 0 1 0 -14.1 0zM727.8 98.5a7.05 7.05 0 1 0 14.1 0a7.05 7.05 0 1 0 -14.1 0zM730.9 98.3a7.05 7.05 0 1 0 14.1 0a7.05 7.05 0 1 0 -14.1 0z"/>
<path fill="#0000ff" d="M133.2 470.7l8.2 15h-16.5zM136.2 469.2l8.2 15h-16.5zM139.2 466.1l8.2 15h-16.5zM142.3 464.9l8.2 15h-16.5zM145.3 464.1l8.2 15h-16.5zM148.3 456.2l8.2 15h-16.5zM151.3 448.4l8.2 15h-16.5zM154.4 448.6l8.2 15h-16.5zM157.4 448.2l8.2 15h-16.5zM160.4 449.3l8.2 15h-16.5zM163.4 448.1l8.2 15h-16.5zM166.5 449.4l8.2 15h-16.5zM169.5 449.9l8.2 15h-16.5zM172.5 448.8l8.2 15h-16.5zM175.5 450l8.2 15h-16.5zM178.6 449.8l8.2 15h-16.5zM181.6 448.1l8.2 15h-16.5zM184.6 449.7l8.2 15h-16.5zM187.6 450.9l8.2 15h-16.5zM190.6 453.9l8.2 15h-16.5zM193.7 455.9l8.2 15h-16.5zM196.7 459.7l8.2 15h-16.5zM199.7 461.6l8.2 15h-16.5zM202.7 463.5l8.2 15h-16.5zM205.8 466.7l8.2 15h-16.5zM208.8 467.9l8.2 15h-16.5zM211.8 466.9l8.2 15h-16.5zM214.8 467.1l8.2 15h-16.5zM217.9 468.1l8.2 15h-16.5zM220.9 470.2l8.2 15h-16.5zM223.9 470.8l8.2 15h-16.5zM226.9 470l8.2 15h-16.5zM230 470.6l8.2 15h-16.5zM233 470.3l8.2 15h-16.5zM236 468.9l8.2 15h-16.5zM239 467.9l8.2 15h-16.5zM242 469.5l8.2 15h-16.5zM245.1 469.2l8.2 15h-16.5zM248.1 468.5l8.2 15h-16.5zM251.1 468l8.2 15h-16.5zM254.1 468.5l8.2 15h-16.5zM257.2 468.6l8.2 15h-16.5zM260.2 467.9l8.2 15h-16.5zM263.2 467.9l8.2 15h-16.5zM266.2 467.9l8.2 15h-16.5zM269.3 467.9l8.2 15h-16.5zM272.3 465.8l8.2 15h-16.5zM275.3 463.8l8.2 15h-16.5zM278.3 463.7l8.2 15h-16.5zM281.4 464.1l8.2 15h-16.5zM284.4 463.2l8.2 15h-16.5zM287.4 463.1l8.2 15h-16.5zM290.4 463.9l8.2 15h-16.5zM293.4 462.5l8.2 15h-16.5zM296.5 463.5l8.2 15h-16.5zM299.5 462.9l8.2 15h-16.5zM302.5 464l8.2 15h-16.5zM305.5 463.1l8.2 15h-16.5zM308.6 459.8l8.2 15h-16.5zM311.6 454.2l8.2 15h-16.5zM314.6 447.3l8.2 15h-16.5zM317.6 440.1l8.2 15h-16.5zM320.7 432.4l8.2 15h-16.5zM323.7 424.7l8.2 15h-16.5zM326.7 417.1l8.2 15h-16.5zM329.7 409.7l8.2 15h-16.5zM332.8 402.5l8.2 15h-16.5zM335.8 395.3l8.2 15h-16.5zM338.8 388.3l8.2 15h-16.5zM341.8 381.7l8.2 15h-16.5zM344.8 374.8l8.2 15h-16.5zM347.9 367.5l8.2 15h-16.5zM350.9 359.9l8.2 15h-16.5zM353.9 352.2l8.2 15h-16.5zM356.9 344.5l8.2 15h-16.5zM360 336.9l8.2 15h-16.5zM363 329.6l8.2 15h-16.5zM366 322.5l8.2 15h-16.5zM369 315.7l8.2 15h-16.5zM372.1 309.1l8.2 15h-16.5zM375.1 302.7l8.2 15h-16.5zM378.1 296.4l8.2 15h-16.5zM381.1 290.1l8.2 15h-16.5zM384.2 283.9l8.2 15h-16.5zM387.2 277.7l8.2 15h-16.5zM390.2 271.5l8.2 15h-16.5zM393.2 265.2l8.2 15h-16.5zM396.2 258.9l8.2 15h-16.5zM399.3 252.7l8.2 15h-16.5zM402.3 246.6l8.2 15h-16.5zM405.3 240.8l8.2 15h-16.5zM408.3 235.3l8.2 15h-16.5zM411.4 230l8.2 15h-16.5zM414.4 224.8l8.2 15h-16.5zM417.4 219.6l8.2 15h-16.5zM420.4 214.7l8.2 15h-16.5zM423.5 209.9l8.2 15h-16.5zM426.5 205.3l8.2 15h-16.5zM429.5 201.1l8.2 15h-16.5zM432.5 197.1l8.2 15h-16.5zM435.6 193.6l8.2 15h-16.5zM438.6 190.3l8.2 15h-16.5zM441.6 187.3l8.2 15h-16.5zM444.6 184.5l8.2 15h-16.5zM447.6 181.8l8.2 15h-16.5zM450.7 179.2l8.2 15h-16.5zM453.7 176.6l8.2 15h-16.5zM456.7 174.1l8.2 15h-16.5zM459.7 171.6l8.2 15h-16.5zM462.8 169.1l8.2 15h-16.5zM465.8 166.6l8.2 15h-16.5zM468.8 164.2l8.2 15h-16.5zM471.8 161.8l8.2 15h-16.5zM474.9 159.5l8.2 15h-16.5zM477.9 157.2l8.2 15h-16.5zM480.9 155l8.2 15h-16.5zM483.9 152.9l8.2 15h-16.5zM486.9 150.8l8.2 15h-16.5zM490 148.8l8.2 15h-16.5zM493 146.9l8.2 15h-16.5zM496 145.1l8.2 15h-16.5zM499 143.3l8.2 15h-16.5zM502.1 141.7l8.2 15h-16.5zM505.1 140.1l8.2 15h-16.5zM508.1 138.5l8.2 15h-16.5zM511.1 136.9l8.2 15h-16.5zM514.2 135.4l8.2 15h-16.5zM517.2 133.9l8.2 15h-16.5zM520.2 132.5l8.2 15h-16.5zM523.2 131.1l8.2 15h-16.5zM526.3 129.8l8.2 15h-16.5zM529.3 128.5l8.2 15h-16.5zM532.3 127.2l8.2 15h-16.5zM535.3 126l8.2 15h-16.5zM538.3 124.9l8.2 15h-16.5zM541.4 123.8l8.2 15h-16.5zM544.4 122.8l8.2 15h-16.5zM547.4 121.8l8.2 15h-16.5zM550.4 120.9l8.2 15h-16.5zM553.5 120l8.2 15h-16.5zM556.5 119.2l8.2 15h-16.5zM559.5 118.4l8.2 15h-16.5zM562.5 117.6l8.2 15h-16.5zM565.6 116.9l8.2 15h-16.5zM568.6 116.2l8.2 15h-16.5zM571.6 115.5l8.2 15h-16.5zM574.6 114.8l8.2 15h-16.5zM577.7 114.2l8.2 15h-16.5zM580.7 113.5l8.2 15h-16.5zM583.7 112.9l8.2 15h-16.5zM586.7 112.3l8.2 15h-16.5zM589.7 111.8l8.2 15h-16.5zM592.8 111.2l8.2 15h-16.5zM595.8 110.6l8.2 15h-16.5zM598.8 110l8.2 15h-16.5zM601.8 109.5l8.2 15h-16.5zM604.9 108.9l8.2 15h-16.5zM607.9 108.3l8.2 15h-16.5zM610.9 107.8l8.2 15h-16.5zM613.9 107.2l8.2 15h-16.5zM617 106.6l8.2 15h-16.5zM620 106.1l8.2 15h-16.5zM623 105.6l8.2 15h-16.5zM626 105l8.2 15h-16.5zM629.1 104.5l8.2 15h-16.5zM632.1 104l8.2 15h-16.5zM635.1 103.5l8.2 15h-16.5zM638.1 102.9l8.2 15h-16.5zM641.1 102.4l8.2 15h-16.5zM644.2 101.9l8.2 15h-16.5zM647.2 101.4l8.2 15h-16.5zM650.2 101l8.2 15h-16.5zM653.2 100.5l8.2 15h-16.5zM656.3 100l8.2 15h-16.5zM659.3 99.6l8.2 15h-16.5zM662.3 99.1l8.2 15h-16.5zM665.3 98.7l8.2 15h-16.5zM668.4 98.2l8.2 15h-16.5zM671.4 97.8l8.2 15h-16.5zM674.4 97.4l8.2 15h-16.5zM677.4 97l8.2 15h-16.5zM680.5 96.6l8.2 15h-16.5zM683.5 96.2l8.2 15h-16.5zM686.5 95.8l8.2 15h-16.5zM689.5 95.5l8.2 15h-16.5zM692.5 95.1l8.2 15h-16.5zM695.6 94.8l8.2 15h-16.5zM698.6 94.4l8.2 15h-16.5zM701.6 94.1l8.2 15h-16.5zM704.6 93.8l8.2 15h-16.5zM707.7 93.5l8.2 15h-16.5zM710.7 93.2l8.2 15h-16.5zM713.7 92.9l8.2 15h-16.5zM716.7 92.6l8.2 15h-16.5zM719.8 92.3l8.2 15h-16.5zM722.8 92l8.2 15h-16.5zM725.8 91.8l8.2 15h-16.5zM728.8 91.5l8.2 15h-16.5zM731.9 91.3l8.2 15h-16.5zM734.9 91l8.2 15h-16.5zM737.9 90.7l8.2 15h-16.5z"/>
<path fill="#008000" d="M133.2 470.1l8.9 8.9l-8.9 8.9l-8.9 -8.9zM136.2 470.1l8.9 8.9l-8.9 8.9l-8.9 -8.9zM139.2 470.1l8.9 8.9l-8.9 8.9l-8.9 -8.9zM142.3 470.1l8.9 8.9l-8.9 8.9l-8.9 -8.9zM145.3 470.1l8.9 8.9l-8.9 8.9l-8.9 -8.9zM148.3 470.1l8.9 8.9l-8.9 8.9l-8.9 -8.9zM151.3 470.1l8.9 8.9l-8.9 8.9l-8.9 -8.9zM154.4 470.1l8.9 8.9l-8.9 8.9l-8.9 -8.9zM157.4 470.1l8.9 8.9l-8.9 8.9l-8.9 -8.9zM160.4 470.1l8.9 8.9l-8.9 8.9l-8.9 -8.9zM163.4 470.1l8.9 8.9l-8.9 8.9l-8.9 -8.9zM166.5 470.1l8.9 8.9l-8.9 8.9l-8.9 -8.9zM169.5 470.1l8.9 8.9l-8.9 8.9l-8.9 -8.9zM172.5 470.1l8.9 8.9l-8.9 8.9l-8.9 -8.9zM175.5 470.1l8.9 8.9l-8.9 8.9l-8.9 -8.9zM178.6 470.1l8.9 8.9l-8.9 8.9l-8.9 -8.9zM181.6 470.1l8.9 8.9l-8.9 8.9l-8.9 -8.9zM184.6 470.1l8.9 8.9l-8.9 8.9l-8.9 -8.9zM187.6 470.1l8.9 8.9l-8.9 8.9l-8.9 -8.9zM190.6 470.1l8.9 8.9l-8.9 8.9l-8.9 -8.9zM193.7 470.1l8.9 8.9l-8.9 8.9l-8.9 -8.9zM196.7 470.1l8.9 8.9l-8.9 8.9l-8.9 -8.9zM199.7 470.1l8.9 8.9l-8.9 8.9l-8.9 -8.9zM202.7 470.1l8.9 8.9l-8.9 8.9l-8.9 -8.9zM205.8 470.1l8.9 8.9l-8.9 8.9l-8.9 -8.9zM208.8 470.1l8.9 8.9l-8.9 8.9l-8.9 -8.9zM211.8 470.1l8.9 8.9l-8.9 8.9l-8.9 -8.9zM214.8 470.1l8.9 8.9l-8.9 8.9l-8.9 -8.9zM217.9 470.1l8.9 8.9l-8.9 8.9l-8.9 -8.9zM220.9 470.1l8.9 8.9l-8.9 8.9l-8.9 -8.9zM223.9 470.1l8.9 8.9l-8.9 8.9l-8.9 -8.9zM226.9 470.1l8.9 8.9l-8.9 8.9l-8.9 -8.9zM230 470.1l8.9 8.9l-8.9 8.9l-8.9 -8.9zM233 470.1l8.9 8.9l-8.9 8.9l-8.9 -8.9zM236 470.1l8.9 8.9l-8.9 8.9l-8.9 -8.9zM239 470.1l8.9 8.9l-8.9 8.9l-8.9 -8.9zM242 470.1l8.9 8.9l-8.9 8.9l-8.9 -8.9zM245.1 470.1l8.9 8.9l-8.9 8.9l-8.9 -8.9zM248.1 470.1l8.9 8.9l-8.9 8.9l-8.9 -8.9zM133.2 450.8l8.9 8.9l-8.9 8.9l-8.9 -8.9zM136.2 449.2l8.9 8.9l-8.9 8.9l-8.9 -8.9zM139.2 456.1l8.9 8.9l-8.9 8.9l-8.9 -8.9zM142.3 456.2l8.9 8.9l-8.9 8.9l-8.9 -8.9zM145.3 458.8l8.9 8.9l-8.9 8.9l-8.9 -8.9zM148.3 456.7l8.9 8.9l-8.9 8.9l-8.9 -8.9zM151.3 465.3l8.9 8.9l-8.9 8.9l-8.9 -8.9zM154.4 454.4l8.9 8.9l-8.9 8.9l-8.9 -8.9zM157.4 458.3l8.9 8.9l-8.9 8.9l-8.9 -8.9zM160.4 462.2l8.9 8.9l-8.9 8.9l-8.9 -8.9zM163.4 467.8l8.9 8.9l-8.9 8.9l-8.9 -8.9zM166.5 461.8l8.9 8.9l-8.9 8.9l-8.9 -8.9zM169.5 465.7l8.9 8.9l-8.9 8.9l-8.9 -8.9zM172.5 464.3l8.9 8.9l-8.9 8.9l-8.9 -8.9zM175.5 455.7l8.9 8.9l-8.9 8.9l-8.9 -8.9zM178.6 461.8l8.9 8.9l-8.9 8.9l-8.9 -8.9zM181.6 457.7l8.9 8.9l-8.9 8.9l-8.9 -8.9zM184.6 463.3l8.9 8.9l-8.9 8.9l-8.9 -8.9zM187.6 461.7l8.9 8.9l-8.9 8.9l-8.9 -8.9zM190.6 470.5l8.9 8.9l-8.9 8.9l-8.9 -8.9zM193.7 463.1l8.9 8.9l-8.9 8.9l-8.9 -8.9zM196.7 467.1l8.9 8.9l-8.9 8.9l-8.9 -8.9zM199.7 467.4l8.9 8.9l-8.9 8.9l-8.9 -8.9zM202.7 470.3l8.9 8.9l-8.9 8.9l-8.9 -8.9zM205.8 463.8l8.9 8.9l-8.9 8.9l-8.9 -8.9zM208.8 458.6l8.9 8.9l-8.9 8.9l-8.9 -8.9zM211.8 459.7l8.9 8.9l-8.9 8.9l-8.9 -8.9zM214.8 455l8.9 8.9l-8.9 8.9l-8.9 -8.9zM217.9 462.7l8.9 8.9l-8.9 8.9l-8.9 -8.9zM220.9 461.4l8.9 8.9l-8.9 8.9l-8.9 -8.9zM223.9 461.6l8.9 8.9l-8.9 8.9l-8.9 -8.9zM226.9 462.9l8.9 8.9l-8.9 8.9l-8.9 -8.9zM230 456l8.9 8.9l-8.9 8.9l-8.9 -8.9zM233 450.7l8.9 8.9l-8.9 8.9l-8.9 -8.9zM236 450.1l8.9 8.9l-8.9 8.9l-8.9 -8.9zM239 452.9l8.9 8.9l-8.9 8.9l-8.9 -8.9zM242 451.6l8.9 8.9l-8.9 8.9l-8.9 -8.9zM245.1 451.6l8.9 8.9l-8.9 8.9l-8.9 -8.9zM248.1 448.1l8.9 8.9l-8.9 8.9l-8.9 -8.9zM251.1 449.5l8.9 8.9l-8.9 8.9l-8.9 -8.9zM254.1 448.2l8.9 8.9l-8.9 8.9l-8.9 -8.9zM257.2 452.7l8.9 8.9l-8.9 8.9l-8.9 -8.9zM260.2 456.4l8.9 8.9l-8.9 8.9l-8.9 -8.9zM263.2 452.7l8.9 8.9l-8.9 8.9l-8.9 -8.9zM266.2 453.5l8.9 8.9l-8.9 8.9l-8.9 -8.9zM269.3 452.3l8.9 8.9l-8.9 8.9l-8.9 -8.9zM272.3 451.7l8.9 8.9l-8.9 8.9l-8.9 -8.9zM275.3 445l8.9 8.9l-8.9 8.9l-8.9 -8.9zM278.3 446.1l8.9 8.9l-8.9 8.9l-8.9 -8.9zM281.4 448.7l8.9 8.9l-8.9 8.9l-8.9 -8.9zM284.4 452.8l8.9 8.9l-8.9 8.9l-8.9 -8.9zM287.4 445.3l8.9 8.9l-8.9 8.9l-8.9 -8.9zM290.4 446l8.9 8.9l-8.9 8.9l-8.9 -8.9zM293.4 439.4l8.9 8.9l-8.9 8.9l-8.9 -8.9zM296.5 443.3l8.9 8.9l-8.9 8.9l-8.9 -8.9zM299.5 441.7l8.9 8.9l-8.9 8.9l-8.9 -8.9zM302.5 450.9l8.9 8.9l-8.9 8.9l-8.9 -8.9zM305.5 448.1l8.9 8.9l-8.9 8.9l-8.9 -8.9zM308.6 454.1l8.9 8.9l-8.9 8.9l-8.9 -8.9zM311.6 451.9l8.9 8.9l-8.9 8.9l-8.9 -8.9zM314.6 458.7l8.9 8.9l-8.9 8.9l-8.9 -8.9zM317.6 455.6l8.9 8.9l-8.9 8.9l-8.9 -8.9zM320.7 457l8.9 8.9l-8.9 8.9l-8.9 -8.9zM323.7 462.4l8.9 8.9l-8.9 8.9l-8.9 -8.9zM326.7 467.3l8.9 8.9l-8.9 8.9l-8.9 -8.9zM329.7 467.9l8.9 8.9l-8.9 8.9l-8.9 -8.9zM332.8 464.3l8.9 8.9l-8.9 8.9l-8.9 -8.9zM335.8 458.8l8.9 8.9l-8.9 8.9l-8.9 -8.9zM338.8 453.6l8.9 8.9l-8.9 8.9l-8.9 -8.9zM341.8 447.6l8.9 8.9l-8.9 8.9l-8.9 -8.9zM344.8 441.3l8.9 8.9l-8.9 8.9l-8.9 -8.9zM347.9 434.8l8.9 8.9l-8.9 8.9l-8.9 -8.9zM350.9 428.2l8.9 8.9l-8.9 8.9l-8.9 -8.9zM353.9 421.4l8.9 8.9l-8.9 8.9l-8.9 -8.9zM356.9 414.4l8.9 8.9l-8.9 8.9l-8.9 -8.9zM360 407.1l8.9 8.9l-8.9 8.9l-8.9 -8.9zM363 399.5l8.9 8.9l-8.9 8.9l-8.9 -8.9zM366 392l8.9 8.9l-8.9 8.9l-8.9 -8.9zM369 384.8l8.9 8.9l-8.9 8.9l-8.9 -8.9zM372.1 377.3l8.9 8.9l-8.9 8.9l-8.9 -8.9zM375.1 369.4l8.9 8.9l-8.9 8.9l-8.9 -8.9zM378.1 361.3l8.9 8.9l-8.9 8.9l-8.9 -8.9zM381.1 353.2l8.9 8.9l-8.9 8.9l-8.9 -8.9zM384.2 345l8.9 8.9l-8.9 8.9l-8.9 -8.9zM387.2 337.1l8.9 8.9l-8.9 8.9l-8.9 -8.9zM390.2 329.4l8.9 8.9l-8.9 8.9l-8.9 -8.9zM393.2 322l8.9 8.9l-8.9 8.9l-8.9 -8.9zM396.2 314.8l8.9 8.9l-8.9 8.9l-8.9 -8.9zM399.3 307.8l8.9 8.9l-8.9 8.9l-8.9 -8.9zM402.3 300.9l8.9 8.9l-8.9 8.9l-8.9 -8.9zM405.3 294.1l8.9 8.9l-8.9 8.9l-8.9 -8.9zM408.3 287.5l8.9 8.9l-8.9 8.9l-8.9 -8.9zM411.4 281l8.9 8.9l-8.9 8.9l-8.9 -8.9zM414.4 274.5l8.9 8.9l-8.9 8.9l-8.9 -8.9zM417.4 268l8.9 8.9l-8.9 8.9l-8.9 -8.9zM420.4 261.7l8.9 8.9l-8.9 8.9l-8.9 -8.9zM423.5 255.5l8.9 8.9l-8.9 8.9l-8.9 -8.9zM426.5 249.5l8.9 8.9l-8.9 8.9l-8.9 -8.9zM429.5 243.8l8.9 8.9l-8.9 8.9l-8.9 -8.9zM432.5 238.4l8.9 8.9l-8.9 8.9l-8.9 -8.9zM435.6 233.3l8.9 8.9l-8.9 8.9l-8.9 -8.9zM438.6 228.6l8.9 8.9l-8.9 8.9l-8.9 -8.9zM441.6 224.3l8.9 8.9l-8.9 8.9l-8.9 -8.9zM444.6 220.5l8.9 8.9l-8.9 8.9l-8.9 -8.9zM447.6 217l8.9 8.9l-8.9 8.9l-8.9 -8.9zM450.7 213.5l8.9 8.9l-8.9 8.9l-8.9 -8.9zM453.7 210l8.9 8.9l-8.9 8.9l-8.9 -8.9zM456.7 206.5l8.9 8.9l-8.9 8.9l-8.9 -8.9zM459.7 203l8.9 8.9l-8.9 8.9l-8.9 -8.9zM462.8 199.5l8.9 8.9l-8.9 8.9l-8.9 -8.9zM465.8 196.1l8.9 8.9l-8.9 8.9l-8.9 -8.9zM468.8 192.7l8.9 8.9l-8.9 8.9l-8.9 -8.9zM471.8 189.5l8.9 8.9l-8.9 8.9l-8.9 -8.9zM474.9 186.4l8.9 8.9l-8.9 8.9l-8.9 -8.9zM477.9 183.2l8.9 8.9l-8.9 8.9l-8.9 -8.9zM480.9 180.1l8.9 8.9l-8.9 8.9l-8.9 -8.9zM483.9 177l8.9 8.9l-8.9 8.9l-8.9 -8.9zM486.9 174l8.9 8.9l-8.9 8.9l-8.9 -8.9zM490 171.1l8.9 8.9l-8.9 8.9l-8.9 -8.9zM493 168.3l8.9 8.9l-8.9 8.9l-8.9 -8.9zM496 165.7l8.9 8.9l-8.9 8.9l-8.9 -8.9zM499 163.3l8.9 8.9l-8.9 8.9l-8.9 -8.9zM502.1 161.1l8.9 8.9l-8.9 8.9l-8.9 -8.9zM505.1 158.9l8.9 8.9l-8.9 8.9l-8.9 -8.9zM508.1 156.7l8.9 8.9l-8.9 8.9l-8.9 -8.9zM511.1 154.6l8.9 8.9l-8.9 8.9l-8.9 -8.9zM514.2 152.6l8.9 8.9l-8.9 8.9l-8.9 -8.9zM517.2 150.6l8.9 8.9l-8.9 8.9l-8.9 -8.9zM520.2 148.7l8.9 8.9l-8.9 8.9l-8.9 -8.9zM523.2 146.8l8.9 8.9l-8.9 8.9l-8.9 -8.9zM526.3 145l8.9 8.9l-8.9 8.9l-8.9 -8.9zM529.3 143.3l8.9 8.9l-8.9 8.9l-8.9 -8.9zM532.3 141.6l8.9 8.9l-8.9 8.9l-8.9 -8.9zM535.3 140l8.9 8.9l-8.9 8.9l-8.9 -8.9zM538.3 138.5l8.9 8.9l-8.9 8.9l-8.9 -8.9zM541.4 137.1l8.9 8.9l-8.9 8.9l-8.9 -8.9zM544.4 135.7l8.9 8.9l-8.9 8.9l-8.9 -8.9zM547.4 134.5l8.9 8.9l-8.9 8.9l-8.9 -8.9zM550.4 133.3l8.9 8.9l-8.9 8.9l-8.9 -8.9zM553.5 132.3l8.9 8.9l-8.9 8.9l-8.9 -8.9zM556.5 131.2l8.9 8.9l-8.9 8.9l-8.9 -8.9zM559.5 130.3l8.9 8.9l-8.9 8.9l-8.9 -8.9zM562.5 129.3l8.9 8.9l-8.9 8.9l-8.9 -8.9zM565.6 128.4l8.9 8.9l-8.9 8.9l-8.9 -8.9zM568.6 127.6l8.9 8.9l-8.9 8.9l-8.9 -8.9zM571.6 126.8l8.9 8.9l-8.9 8.9l-8.9 -8.9zM574.6 126l8.9 8.9l-8.9 8.9l-8.9 -8.9zM577.7 125.2l8.9 8.9l-8.9 8.9l-8.9 -8.9zM580.7 124.5l8.9 8.9l-8.9 8.9l-8.9 -8.9zM583.7 123.8l8.9 8.9l-8.9 8.9l-8.9 -8.9zM586.7 123l8.9 8.9l-8.9 8.9l-8.9 -8.9zM589.7 122.3l8.9 8.9l-8.9 8.9l-8.9 -8.9zM592.8 121.6l8.9 8.9l-8.9 8.9l-8.9 -8.9zM595.8 120.9l8.9 8.9l-8.9 8.9l-8.9 -8.9zM598.8 120.2l8.9 8.9l-8.9 8.9l-8.9 -8.9zM601.8 119.5l8.9 8.9l-8.9 8.9l-8.9 -8.9zM604.9 118.7l8.9 8.9l-8.9 8.9l-8.9 -8.9zM607.9 118l8.9 8.9l-8.9 8.9l-8.9 -8.9zM610.9 117.3l8.9 8.9l-8.9 8.9l-8.9 -8.9zM613.9 116.5l8.9 8.9l-8.9 8.9l-8.9 -8.9zM617 115.8l8.9 8.9l-8.9 8.9l-8.9 -8.9zM620 115.1l8.9 8.9l-8.9 8.9l-8.9 -8.9zM623 114.4l8.9 8.9l-8.9 8.9l-8.9 -8.9zM626 113.7l8.9 8.9l-8.9 8.9l-8.9 -8.9zM629.1 113l8.9 8.9l-8.9 8.9l-8.9 -8.9zM632.1 112.3l8.9 8.9l-8.9 8.9l-8.9 -8.9zM635.1 111.6l8.9 8.9l-8.9 8.9l-8.9 -8.9zM638.1 110.9l8.9 8.9l-8.9 8.9l-8.9 -8.9zM641.1 110.2l8.9 8.9l-8.9 8.9l-8.9 -8.9zM644.2 109.5l8.9 8.9l-8.9 8.9l-8.9 -8.9zM647.2 108.9l8.9 8.9l-8.9 8.9l-8.9 -8.9zM650.2 108.2l8.9 8.9l-8.9 8.9l-8.9 -8.9zM653.2 107.6l8.9 8.9l-8.9 8.9l-8.9 -8.9zM656.3 106.9l8.9 8.9l-8.9 8.9l-8.9 -8.9zM659.3 106.3l8.9 8.9l-8.9 8.9l-8.9 -8.9zM662.3 105.7l8.9 8.9l-8.9 8.9l-8.9 -8.9zM665.3 105.1l8.9 8.9l-8.9 8.9l-8.9 -8.9zM668.4 104.5l8.9 8.9l-8.9 8.9l-8.9 -8.9zM671.4 103.9l8.9 8.9l-8.9 8.9l-8.9 -8.9zM674.4 103.4l8.9 8.9l-8.9 8.9l-8.9 -8.9zM677.4 102.8l8.9 8.9l-8.9 8.9l-8.9 -8.9zM680.5 102.3l8.9 8.9l-8.9 8.9l-8.9 -8.9zM683.5 101.8l8.9 8.9l-8.9 8.9l-8.9 -8.9zM686.5 101.3l8.9 8.9l-8.9 8.9l-8.9 -8.9zM689.5 100.8l8.9 8.9l-8.9 8.9l-8.9 -8.9zM692.5 100.3l8.9 8.9l-8.9 8.9l-8.9 -8.9zM695.6 99.8l8.9 8.9l-8.9 8.9l-8.9 -8.9zM698.6 99.4l8.9 8.9l-8.9 8.9l-8.9 -8.9zM701.6 99l8.9 8.9l-8.9 8.9l-8.9 -8.9zM704.6 98.5l8.9 8.9l-8.9 8.9l-8.9 -8.9zM707.7 98.1l8.9 8.9l-8.9 8.9l-8.9 -8.9zM710.7 97.7l8.9 8.9l-8.9 8.9l-8.9 -8.9zM713.7 97.3l8.9 8.9l-8.9 8.9l-8.9 -8.9zM716.7 97l8.9 8.9l-8.9 8.9l-8.9 -8.9zM719.8 96.6l8.9 8.9l-8.9 8.9l-8.9 -8.9zM722.8 96.2l8.9 8.9l-8.9 8.9l-8.9 -8.9zM725.8 95.9l8.9 8.9l-8.9 8.9l-8.9 -8.9zM728.8 95.5l8.9 8.9l-8.9 8.9l-8.9 -8.9zM731.9 95.1l8.9 8.9l-8.9 8.9l-8.9 -8.9zM734.9 94.8l8.9 8.9l-8.9 8.9l-8.9 -8.9zM737.9 94.5l8.9 8.9l-8.9 8.9l-8.9 -8.9z"/>
</g>
<text x="164.5" y="67.6" font-size="33.5">(a)</text>
<g font-size="28.5">
<text x="155.8" y="122.2">Gate bias application:</text>
<text x="156.7" y="156">V</text><text x="174.2" y="163.7" font-size="20">G</text><text x="197.4" y="156">=</text><text x="221.4" y="156">20</text><text x="256.3" y="156">V</text>
<text x="155.2" y="190.3">(V<tspan font-size="19.5" dy="7">S</tspan><tspan dy="-7">=V</tspan><tspan font-size="19.5" dy="7">D</tspan><tspan dy="-7">=0V)</tspan></text>
<text x="151.6" y="245.8">Injection time</text>
<text x="152.2" y="279.8">0, 0.5, 5, 50 s</text>
</g>
<path d="M294.7 306.3H427.2V288L458.1 318.9L427.2 349.9V331.5H294.7z" fill="#000"/>
<g fill="none" stroke="#000" stroke-width="4" stroke-linejoin="round">
<path d="M495.5 275.2L523.8 248V408.6L495.5 437.4z"/>
<path d="M616.3 212.4L632.8 195.6V355.6L616.3 371.8z" stroke-width="4.3"/>
<path d="M523.8 281.2L616.5 250.4M523.8 380.4L616.5 351.7" stroke-width="4.2"/>
<path d="M458.1 347.8H497.5" stroke-width="4.2"/>
<path d="M631.5 252.6C638 247 642 243.6 651 243.6H687.4M631.5 271.9C638 266.5 642 263.2 651 263.2H687.4" stroke-width="4"/>
</g>
<circle cx="646" cy="231.8" r="6.7"/><circle cx="575.3" cy="296.3" r="6.6"/>
<g stroke="#f00" stroke-width="4" fill="#f00">
<path d="M637.5 231.3H584" fill="none"/><path d="M573.5 231.3L585.8 225.2V237.4z" stroke="none"/>
<path d="M574.3 236.7V277" fill="none"/><path d="M574.3 286.6L567.9 275.2H580.7z" stroke="none"/>
</g>
<g font-size="24">
<text x="414.2" y="381.4">TiN</text>
<text x="555" y="401.4">SiN</text>
<text x="504" y="446.3">SiO<tspan font-size="16.5" dy="6.5">2</tspan></text>
<text x="619.6" y="399.5">SiO<tspan font-size="16.5" dy="6.5">2</tspan></text>
<text x="639.2" y="301.3">LTPS</text>
</g>
<g clip-path="url(#clipb)">
<path fill="#000" d="M127.9 1055.5h12.2v12.2h-12.2zM130.9 1056.5h12.2v12.2h-12.2zM134 1055.4h12.2v12.2h-12.2zM137 1056.6h12.2v12.2h-12.2zM140 1055.9h12.2v12.2h-12.2zM143 1056.1h12.2v12.2h-12.2zM146.1 1056.3h12.2v12.2h-12.2zM149.1 1055.9h12.2v12.2h-12.2zM152.1 1055.6h12.2v12.2h-12.2zM155.1 1055.4h12.2v12.2h-12.2zM158.2 1055.2h12.2v12.2h-12.2zM161.2 1056.3h12.2v12.2h-12.2zM164.2 1055.8h12.2v12.2h-12.2zM167.2 1055.4h12.2v12.2h-12.2zM170.3 1056.5h12.2v12.2h-12.2zM173.3 1055.5h12.2v12.2h-12.2zM176.3 1055.8h12.2v12.2h-12.2zM179.3 1055.6h12.2v12.2h-12.2zM182.4 1056.1h12.2v12.2h-12.2zM185.4 1056h12.2v12.2h-12.2zM188.4 1056.1h12.2v12.2h-12.2zM191.4 1055.5h12.2v12.2h-12.2zM194.5 1055.6h12.2v12.2h-12.2zM197.5 1055.5h12.2v12.2h-12.2zM200.5 1055.6h12.2v12.2h-12.2zM203.6 1055.3h12.2v12.2h-12.2zM206.6 1055.4h12.2v12.2h-12.2zM209.6 1056.6h12.2v12.2h-12.2zM212.6 1056.6h12.2v12.2h-12.2zM215.7 1055.4h12.2v12.2h-12.2zM218.7 1055.1h12.2v12.2h-12.2zM221.7 1055.4h12.2v12.2h-12.2zM224.7 1056.2h12.2v12.2h-12.2zM227.8 1056.3h12.2v12.2h-12.2zM230.8 1055.1h12.2v12.2h-12.2zM233.8 1056h12.2v12.2h-12.2zM236.8 1055.1h12.2v12.2h-12.2zM239.9 1055.9h12.2v12.2h-12.2zM242.9 1056.1h12.2v12.2h-12.2zM245.9 1056.7h12.2v12.2h-12.2zM248.9 1055.5h12.2v12.2h-12.2zM252 1056.4h12.2v12.2h-12.2zM255 1056.5h12.2v12.2h-12.2zM258 1056.6h12.2v12.2h-12.2zM261 1055.1h12.2v12.2h-12.2zM264.1 1055.9h12.2v12.2h-12.2zM267.1 1056.7h12.2v12.2h-12.2zM270.1 1055.7h12.2v12.2h-12.2zM273.1 1056.4h12.2v12.2h-12.2zM276.2 1055.8h12.2v12.2h-12.2zM279.2 1055.8h12.2v12.2h-12.2zM282.2 1054.3h12.2v12.2h-12.2zM285.3 1050.9h12.2v12.2h-12.2zM288.3 1045.5h12.2v12.2h-12.2zM291.3 1038.4h12.2v12.2h-12.2zM294.3 1030.6h12.2v12.2h-12.2zM297.4 1022.7h12.2v12.2h-12.2zM300.4 1014.7h12.2v12.2h-12.2zM303.4 1006.7h12.2v12.2h-12.2zM306.4 998.5h12.2v12.2h-12.2zM309.5 990.4h12.2v12.2h-12.2zM312.5 982.1h12.2v12.2h-12.2zM315.5 973.9h12.2v12.2h-12.2zM318.5 965.5h12.2v12.2h-12.2zM321.6 957.1h12.2v12.2h-12.2zM324.6 948.7h12.2v12.2h-12.2zM327.6 940h12.2v12.2h-12.2zM330.6 931.2h12.2v12.2h-12.2zM333.7 922.2h12.2v12.2h-12.2zM336.7 913.4h12.2v12.2h-12.2zM339.7 904.7h12.2v12.2h-12.2zM342.7 896.2h12.2v12.2h-12.2zM345.8 888.2h12.2v12.2h-12.2zM348.8 880.3h12.2v12.2h-12.2zM351.8 872.6h12.2v12.2h-12.2zM354.9 865h12.2v12.2h-12.2zM357.9 857.6h12.2v12.2h-12.2zM360.9 850.2h12.2v12.2h-12.2zM363.9 843.1h12.2v12.2h-12.2zM367 836h12.2v12.2h-12.2zM370 829.1h12.2v12.2h-12.2zM373 822.4h12.2v12.2h-12.2zM376 815.8h12.2v12.2h-12.2zM379.1 809.2h12.2v12.2h-12.2zM382.1 802.8h12.2v12.2h-12.2zM385.1 796.5h12.2v12.2h-12.2zM388.1 790.5h12.2v12.2h-12.2zM391.2 784.7h12.2v12.2h-12.2zM394.2 779.3h12.2v12.2h-12.2zM397.2 774.3h12.2v12.2h-12.2zM400.2 769.6h12.2v12.2h-12.2zM403.3 765.1h12.2v12.2h-12.2zM406.3 760.8h12.2v12.2h-12.2zM409.3 756.8h12.2v12.2h-12.2zM412.3 752.9h12.2v12.2h-12.2zM415.4 749.2h12.2v12.2h-12.2zM418.4 745.6h12.2v12.2h-12.2zM421.4 742.1h12.2v12.2h-12.2zM424.4 738.9h12.2v12.2h-12.2zM427.5 736h12.2v12.2h-12.2zM430.5 733.4h12.2v12.2h-12.2zM433.5 731.1h12.2v12.2h-12.2zM436.6 728.9h12.2v12.2h-12.2zM439.6 726.9h12.2v12.2h-12.2zM442.6 724.9h12.2v12.2h-12.2zM445.6 723.1h12.2v12.2h-12.2zM448.7 721.3h12.2v12.2h-12.2zM451.7 719.7h12.2v12.2h-12.2zM454.7 718.1h12.2v12.2h-12.2zM457.7 716.7h12.2v12.2h-12.2zM460.8 715.3h12.2v12.2h-12.2zM463.8 714.1h12.2v12.2h-12.2zM466.8 712.9h12.2v12.2h-12.2zM469.8 711.8h12.2v12.2h-12.2zM472.9 710.8h12.2v12.2h-12.2zM475.9 709.8h12.2v12.2h-12.2zM478.9 708.9h12.2v12.2h-12.2zM481.9 708h12.2v12.2h-12.2zM485 707.1h12.2v12.2h-12.2zM488 706.3h12.2v12.2h-12.2zM491 705.4h12.2v12.2h-12.2zM494 704.5h12.2v12.2h-12.2zM497.1 703.5h12.2v12.2h-12.2zM500.1 702.6h12.2v12.2h-12.2zM503.1 701.6h12.2v12.2h-12.2zM506.1 700.7h12.2v12.2h-12.2zM509.2 699.7h12.2v12.2h-12.2zM512.2 698.8h12.2v12.2h-12.2zM515.2 697.8h12.2v12.2h-12.2zM518.3 696.9h12.2v12.2h-12.2zM521.3 695.9h12.2v12.2h-12.2zM524.3 695h12.2v12.2h-12.2zM527.3 694.1h12.2v12.2h-12.2zM530.4 693.3h12.2v12.2h-12.2zM533.4 692.4h12.2v12.2h-12.2zM536.4 691.6h12.2v12.2h-12.2zM539.4 690.8h12.2v12.2h-12.2zM542.5 690.1h12.2v12.2h-12.2zM545.5 689.4h12.2v12.2h-12.2zM548.5 688.8h12.2v12.2h-12.2zM551.5 688.2h12.2v12.2h-12.2zM554.6 687.6h12.2v12.2h-12.2zM557.6 687h12.2v12.2h-12.2zM560.6 686.5h12.2v12.2h-12.2zM563.6 685.9h12.2v12.2h-12.2zM566.7 685.4h12.2v12.2h-12.2zM569.7 684.9h12.2v12.2h-12.2zM572.7 684.4h12.2v12.2h-12.2zM575.7 684h12.2v12.2h-12.2zM578.8 683.5h12.2v12.2h-12.2zM581.8 683.1h12.2v12.2h-12.2zM584.8 682.6h12.2v12.2h-12.2zM587.9 682.2h12.2v12.2h-12.2zM590.9 681.7h12.2v12.2h-12.2zM593.9 681.3h12.2v12.2h-12.2zM596.9 680.9h12.2v12.2h-12.2zM600 680.4h12.2v12.2h-12.2zM603 680h12.2v12.2h-12.2zM606 679.5h12.2v12.2h-12.2zM609 679h12.2v12.2h-12.2zM612.1 678.6h12.2v12.2h-12.2zM615.1 678.1h12.2v12.2h-12.2zM618.1 677.6h12.2v12.2h-12.2zM621.1 677.1h12.2v12.2h-12.2zM624.2 676.6h12.2v12.2h-12.2zM627.2 676.1h12.2v12.2h-12.2zM630.2 675.6h12.2v12.2h-12.2zM633.2 675.1h12.2v12.2h-12.2zM636.3 674.6h12.2v12.2h-12.2zM639.3 674.2h12.2v12.2h-12.2zM642.3 673.7h12.2v12.2h-12.2zM645.3 673.2h12.2v12.2h-12.2zM648.4 672.8h12.2v12.2h-12.2zM651.4 672.3h12.2v12.2h-12.2zM654.4 671.9h12.2v12.2h-12.2zM657.5 671.4h12.2v12.2h-12.2zM660.5 671h12.2v12.2h-12.2zM663.5 670.7h12.2v12.2h-12.2zM666.5 670.3h12.2v12.2h-12.2zM669.6 669.9h12.2v12.2h-12.2zM672.6 669.5h12.2v12.2h-12.2zM675.6 669.2h12.2v12.2h-12.2zM678.6 668.9h12.2v12.2h-12.2zM681.7 668.5h12.2v12.2h-12.2zM684.7 668.2h12.2v12.2h-12.2zM687.7 667.9h12.2v12.2h-12.2zM690.7 667.5h12.2v12.2h-12.2zM693.8 667.2h12.2v12.2h-12.2zM696.8 666.9h12.2v12.2h-12.2zM699.8 666.6h12.2v12.2h-12.2zM702.8 666.3h12.2v12.2h-12.2zM705.9 666h12.2v12.2h-12.2zM708.9 665.7h12.2v12.2h-12.2zM711.9 665.4h12.2v12.2h-12.2zM714.9 665.1h12.2v12.2h-12.2zM718 664.8h12.2v12.2h-12.2zM721 664.6h12.2v12.2h-12.2zM724 664.3h12.2v12.2h-12.2zM727 664h12.2v12.2h-12.2zM730.1 663.7h12.2v12.2h-12.2zM733.1 663.4h12.2v12.2h-12.2z"/>
<path fill="#ff0000" d="M127 1062.8a7.05 7.05 0 1 0 14.1 0a7.05 7.05 0 1 0 -14.1 0zM130 1061.6a7.05 7.05 0 1 0 14.1 0a7.05 7.05 0 1 0 -14.1 0zM133 1062.5a7.05 7.05 0 1 0 14.1 0a7.05 7.05 0 1 0 -14.1 0zM136 1060.9a7.05 7.05 0 1 0 14.1 0a7.05 7.05 0 1 0 -14.1 0zM139.1 1061a7.05 7.05 0 1 0 14.1 0a7.05 7.05 0 1 0 -14.1 0zM142.1 1061.9a7.05 7.05 0 1 0 14.1 0a7.05 7.05 0 1 0 -14.1 0zM145.1 1061.7a7.05 7.05 0 1 0 14.1 0a7.05 7.05 0 1 0 -14.1 0zM148.1 1061.4a7.05 7.05 0 1 0 14.1 0a7.05 7.05 0 1 0 -14.1 0zM151.2 1061.2a7.05 7.05 0 1 0 14.1 0a7.05 7.05 0 1 0 -14.1 0zM154.2 1061.7a7.05 7.05 0 1 0 14.1 0a7.05 7.05 0 1 0 -14.1 0zM157.2 1061.3a7.05 7.05 0 1 0 14.1 0a7.05 7.05 0 1 0 -14.1 0zM160.2 1061.8a7.05 7.05 0 1 0 14.1 0a7.05 7.05 0 1 0 -14.1 0zM163.3 1061.3a7.05 7.05 0 1 0 14.1 0a7.05 7.05 0 1 0 -14.1 0zM166.3 1061.4a7.05 7.05 0 1 0 14.1 0a7.05 7.05 0 1 0 -14.1 0zM169.3 1061.5a7.05 7.05 0 1 0 14.1 0a7.05 7.05 0 1 0 -14.1 0zM172.3 1062.1a7.05 7.05 0 1 0 14.1 0a7.05 7.05 0 1 0 -14.1 0zM175.4 1061.7a7.05 7.05 0 1 0 14.1 0a7.05 7.05 0 1 0 -14.1 0zM178.4 1060.8a7.05 7.05 0 1 0 14.1 0a7.05 7.05 0 1 0 -14.1 0zM181.4 1061.7a7.05 7.05 0 1 0 14.1 0a7.05 7.05 0 1 0 -14.1 0zM184.4 1061.5a7.05 7.05 0 1 0 14.1 0a7.05 7.05 0 1 0 -14.1 0zM187.5 1059.9a7.05 7.05 0 1 0 14.1 0a7.05 7.05 0 1 0 -14.1 0zM190.5 1061.2a7.05 7.05 0 1 0 14.1 0a7.05 7.05 0 1 0 -14.1 0zM193.5 1061.3a7.05 7.05 0 1 0 14.1 0a7.05 7.05 0 1 0 -14.1 0zM196.5 1061.1a7.05 7.05 0 1 0 14.1 0a7.05 7.05 0 1 0 -14.1 0zM199.6 1061a7.05 7.05 0 1 0 14.1 0a7.05 7.05 0 1 0 -14.1 0zM202.6 1060.6a7.05 7.05 0 1 0 14.1 0a7.05 7.05 0 1 0 -14.1 0zM205.6 1059.7a7.05 7.05 0 1 0 14.1 0a7.05 7.05 0 1 0 -14.1 0zM208.7 1061.3a7.05 7.05 0 1 0 14.1 0a7.05 7.05 0 1 0 -14.1 0zM211.7 1060.1a7.05 7.05 0 1 0 14.1 0a7.05 7.05 0 1 0 -14.1 0zM214.7 1059.7a7.05 7.05 0 1 0 14.1 0a7.05 7.05 0 1 0 -14.1 0zM217.7 1060.7a7.05 7.05 0 1 0 14.1 0a7.05 7.05 0 1 0 -14.1 0zM220.8 1061.1a7.05 7.05 0 1 0 14.1 0a7.05 7.05 0 1 0 -14.1 0zM223.8 1059.6a7.05 7.05 0 1 0 14.1 0a7.05 7.05 0 1 0 -14.1 0zM226.8 1060.4a7.05 7.05 0 1 0 14.1 0a7.05 7.05 0 1 0 -14.1 0zM229.8 1058.9a7.05 7.05 0 1 0 14.1 0a7.05 7.05 0 1 0 -14.1 0zM232.9 1054.8a7.05 7.05 0 1 0 14.1 0a7.05 7.05 0 1 0 -14.1 0zM235.9 1051a7.05 7.05 0 1 0 14.1 0a7.05 7.05 0 1 0 -14.1 0zM238.9 1049.6a7.05 7.05 0 1 0 14.1 0a7.05 7.05 0 1 0 -14.1 0zM241.9 1034.2a7.05 7.05 0 1 0 14.1 0a7.05 7.05 0 1 0 -14.1 0zM245 1049.5a7.05 7.05 0 1 0 14.1 0a7.05 7.05 0 1 0 -14.1 0zM248 1038.6a7.05 7.05 0 1 0 14.1 0a7.05 7.05 0 1 0 -14.1 0zM251 1049.9a7.05 7.05 0 1 0 14.1 0a7.05 7.05 0 1 0 -14.1 0zM254 1049.1a7.05 7.05 0 1 0 14.1 0a7.05 7.05 0 1 0 -14.1 0zM257.1 1050.2a7.05 7.05 0 1 0 14.1 0a7.05 7.05 0 1 0 -14.1 0zM260.1 1049a7.05 7.05 0 1 0 14.1 0a7.05 7.05 0 1 0 -14.1 0zM263.1 1048.8a7.05 7.05 0 1 0 14.1 0a7.05 7.05 0 1 0 -14.1 0zM266.1 1050.4a7.05 7.05 0 1 0 14.1 0a7.05 7.05 0 1 0 -14.1 0zM269.2 1049.9a7.05 7.05 0 1 0 14.1 0a7.05 7.05 0 1 0 -14.1 0zM272.2 1050.3a7.05 7.05 0 1 0 14.1 0a7.05 7.05 0 1 0 -14.1 0zM275.2 1047.8a7.05 7.05 0 1 0 14.1 0a7.05 7.05 0 1 0 -14.1 0zM278.2 1041.7a7.05 7.05 0 1 0 14.1 0a7.05 7.05 0 1 0 -14.1 0zM281.3 1034.2a7.05 7.05 0 1 0 14.1 0a7.05 7.05 0 1 0 -14.1 0zM284.3 1026.4a7.05 7.05 0 1 0 14.1 0a7.05 7.05 0 1 0 -14.1 0zM287.3 1018.4a7.05 7.05 0 1 0 14.1 0a7.05 7.05 0 1 0 -14.1 0zM290.4 1010.4a7.05 7.05 0 1 0 14.1 0a7.05 7.05 0 1 0 -14.1 0zM293.4 1002.2a7.05 7.05 0 1 0 14.1 0a7.05 7.05 0 1 0 -14.1 0zM296.4 994a7.05 7.05 0 1 0 14.1 0a7.05 7.05 0 1 0 -14.1 0zM299.4 985.8a7.05 7.05 0 1 0 14.1 0a7.05 7.05 0 1 0 -14.1 0zM302.5 977.5a7.05 7.05 0 1 0 14.1 0a7.05 7.05 0 1 0 -14.1 0zM305.5 969.2a7.05 7.05 0 1 0 14.1 0a7.05 7.05 0 1 0 -14.1 0zM308.5 960.8a7.05 7.05 0 1 0 14.1 0a7.05 7.05 0 1 0 -14.1 0zM311.5 952.3a7.05 7.05 0 1 0 14.1 0a7.05 7.05 0 1 0 -14.1 0zM314.6 943.6a7.05 7.05 0 1 0 14.1 0a7.05 7.05 0 1 0 -14.1 0zM317.6 934.8a7.05 7.05 0 1 0 14.1 0a7.05 7.05 0 1 0 -14.1 0zM320.6 926a7.05 7.05 0 1 0 14.1 0a7.05 7.05 0 1 0 -14.1 0zM323.6 917.2a7.05 7.05 0 1 0 14.1 0a7.05 7.05 0 1 0 -14.1 0zM326.7 908.5a7.05 7.05 0 1 0 14.1 0a7.05 7.05 0 1 0 -14.1 0zM329.7 900a7.05 7.05 0 1 0 14.1 0a7.05 7.05 0 1 0 -14.1 0zM332.7 891.8a7.05 7.05 0 1 0 14.1 0a7.05 7.05 0 1 0 -14.1 0zM335.7 883.6a7.05 7.05 0 1 0 14.1 0a7.05 7.05 0 1 0 -14.1 0zM338.8 875.6a7.05 7.05 0 1 0 14.1 0a7.05 7.05 0 1 0 -14.1 0zM341.8 867.6a7.05 7.05 0 1 0 14.1 0a7.05 7.05 0 1 0 -14.1 0zM344.8 859.7a7.05 7.05 0 1 0 14.1 0a7.05 7.05 0 1 0 -14.1 0zM347.8 851.9a7.05 7.05 0 1 0 14.1 0a7.05 7.05 0 1 0 -14.1 0zM350.9 844.3a7.05 7.05 0 1 0 14.1 0a7.05 7.05 0 1 0 -14.1 0zM353.9 836.7a7.05 7.05 0 1 0 14.1 0a7.05 7.05 0 1 0 -14.1 0zM356.9 829.3a7.05 7.05 0 1 0 14.1 0a7.05 7.05 0 1 0 -14.1 0zM360 822a7.05 7.05 0 1 0 14.1 0a7.05 7.05 0 1 0 -14.1 0zM363 814.4a7.05 7.05 0 1 0 14.1 0a7.05 7.05 0 1 0 -14.1 0zM366 807a7.05 7.05 0 1 0 14.1 0a7.05 7.05 0 1 0 -14.1 0zM369 799.8a7.05 7.05 0 1 0 14.1 0a7.05 7.05 0 1 0 -14.1 0zM372.1 793.3a7.05 7.05 0 1 0 14.1 0a7.05 7.05 0 1 0 -14.1 0zM375.1 787.5a7.05 7.05 0 1 0 14.1 0a7.05 7.05 0 1 0 -14.1 0zM378.1 782.5a7.05 7.05 0 1 0 14.1 0a7.05 7.05 0 1 0 -14.1 0zM381.1 777.9a7.05 7.05 0 1 0 14.1 0a7.05 7.05 0 1 0 -14.1 0zM384.2 773.6a7.05 7.05 0 1 0 14.1 0a7.05 7.05 0 1 0 -14.1 0zM387.2 769.6a7.05 7.05 0 1 0 14.1 0a7.05 7.05 0 1 0 -14.1 0zM390.2 765.9a7.05 7.05 0 1 0 14.1 0a7.05 7.05 0 1 0 -14.1 0zM393.2 762.4a7.05 7.05 0 1 0 14.1 0a7.05 7.05 0 1 0 -14.1 0zM396.3 759a7.05 7.05 0 1 0 14.1 0a7.05 7.05 0 1 0 -14.1 0zM399.3 755.8a7.05 7.05 0 1 0 14.1 0a7.05 7.05 0 1 0 -14.1 0zM402.3 752.7a7.05 7.05 0 1 0 14.1 0a7.05 7.05 0 1 0 -14.1 0zM405.3 749.6a7.05 7.05 0 1 0 14.1 0a7.05 7.05 0 1 0 -14.1 0zM408.4 746.7a7.05 7.05 0 1 0 14.1 0a7.05 7.05 0 1 0 -14.1 0zM411.4 743.8a7.05 7.05 0 1 0 14.1 0a7.05 7.05 0 1 0 -14.1 0zM414.4 741.1a7.05 7.05 0 1 0 14.1 0a7.05 7.05 0 1 0 -14.1 0zM417.4 738.5a7.05 7.05 0 1 0 14.1 0a7.05 7.05 0 1 0 -14.1 0zM420.5 736.1a7.05 7.05 0 1 0 14.1 0a7.05 7.05 0 1 0 -14.1 0zM423.5 733.8a7.05 7.05 0 1 0 14.1 0a7.05 7.05 0 1 0 -14.1 0zM426.5 731.7a7.05 7.05 0 1 0 14.1 0a7.05 7.05 0 1 0 -14.1 0zM429.6 729.8a7.05 7.05 0 1 0 14.1 0a7.05 7.05 0 1 0 -14.1 0zM432.6 728a7.05 7.05 0 1 0 14.1 0a7.05 7.05 0 1 0 -14.1 0zM435.6 726.3a7.05 7.05 0 1 0 14.1 0a7.05 7.05 0 1 0 -14.1 0zM438.6 724.7a7.05 7.05 0 1 0 14.1 0a7.05 7.05 0 1 0 -14.1 0zM441.7 723.2a7.05 7.05 0 1 0 14.1 0a7.05 7.05 0 1 0 -14.1 0zM444.7 721.7a7.05 7.05 0 1 0 14.1 0a7.05 7.05 0 1 0 -14.1 0zM447.7 720.4a7.05 7.05 0 1 0 14.1 0a7.05 7.05 0 1 0 -14.1 0zM450.7 719a7.05 7.05 0 1 0 14.1 0a7.05 7.05 0 1 0 -14.1 0zM453.8 717.8a7.05 7.05 0 1 0 14.1 0a7.05 7.05 0 1 0 -14.1 0zM456.8 716.6a7.05 7.05 0 1 0 14.1 0a7.05 7.05 0 1 0 -14.1 0zM459.8 715.4a7.05 7.05 0 1 0 14.1 0a7.05 7.05 0 1 0 -14.1 0zM462.8 714.2a7.05 7.05 0 1 0 14.1 0a7.05 7.05 0 1 0 -14.1 0zM465.9 713.1a7.05 7.05 0 1 0 14.1 0a7.05 7.05 0 1 0 -14.1 0zM468.9 712a7.05 7.05 0 1 0 14.1 0a7.05 7.05 0 1 0 -14.1 0zM471.9 711a7.05 7.05 0 1 0 14.1 0a7.05 7.05 0 1 0 -14.1 0zM474.9 710a7.05 7.05 0 1 0 14.1 0a7.05 7.05 0 1 0 -14.1 0zM478 709a7.05 7.05 0 1 0 14.1 0a7.05 7.05 0 1 0 -14.1 0zM481 708.1a7.05 7.05 0 1 0 14.1 0a7.05 7.05 0 1 0 -14.1 0zM484 707.2a7.05 7.05 0 1 0 14.1 0a7.05 7.05 0 1 0 -14.1 0zM487 706.4a7.05 7.05 0 1 0 14.1 0a7.05 7.05 0 1 0 -14.1 0zM490.1 705.5a7.05 7.05 0 1 0 14.1 0a7.05 7.05 0 1 0 -14.1 0zM493.1 704.7a7.05 7.05 0 1 0 14.1 0a7.05 7.05 0 1 0 -14.1 0zM496.1 703.8a7.05 7.05 0 1 0 14.1 0a7.05 7.05 0 1 0 -14.1 0zM499.1 703a7.05 7.05 0 1 0 14.1 0a7.05 7.05 0 1 0 -14.1 0zM502.2 702.2a7.05 7.05 0 1 0 14.1 0a7.05 7.05 0 1 0 -14.1 0zM505.2 701.3a7.05 7.05 0 1 0 14.1 0a7.05 7.05 0 1 0 -14.1 0zM508.2 700.5a7.05 7.05 0 1 0 14.1 0a7.05 7.05 0 1 0 -14.1 0zM511.3 699.7a7.05 7.05 0 1 0 14.1 0a7.05 7.05 0 1 0 -14.1 0zM514.3 698.9a7.05 7.05 0 1 0 14.1 0a7.05 7.05 0 1 0 -14.1 0zM517.3 698.1a7.05 7.05 0 1 0 14.1 0a7.05 7.05 0 1 0 -14.1 0zM520.3 697.4a7.05 7.05 0 1 0 14.1 0a7.05 7.05 0 1 0 -14.1 0zM523.4 696.6a7.05 7.05 0 1 0 14.1 0a7.05 7.05 0 1 0 -14.1 0zM526.4 695.9a7.05 7.05 0 1 0 14.1 0a7.05 7.05 0 1 0 -14.1 0zM529.4 695.2a7.05 7.05 0 1 0 14.1 0a7.05 7.05 0 1 0 -14.1 0zM532.4 694.5a7.05 7.05 0 1 0 14.1 0a7.05 7.05 0 1 0 -14.1 0zM535.5 693.8a7.05 7.05 0 1 0 14.1 0a7.05 7.05 0 1 0 -14.1 0zM538.5 693.2a7.05 7.05 0 1 0 14.1 0a7.05 7.05 0 1 0 -14.1 0zM541.5 692.5a7.05 7.05 0 1 0 14.1 0a7.05 7.05 0 1 0 -14.1 0zM544.5 692a7.05 7.05 0 1 0 14.1 0a7.05 7.05 0 1 0 -14.1 0zM547.6 691.4a7.05 7.05 0 1 0 14.1 0a7.05 7.05 0 1 0 -14.1 0zM550.6 690.8a7.05 7.05 0 1 0 14.1 0a7.05 7.05 0 1 0 -14.1 0zM553.6 690.3a7.05 7.05 0 1 0 14.1 0a7.05 7.05 0 1 0 -14.1 0zM556.6 689.8a7.05 7.05 0 1 0 14.1 0a7.05 7.05 0 1 0 -14.1 0zM559.7 689.3a7.05 7.05 0 1 0 14.1 0a7.05 7.05 0 1 0 -14.1 0zM562.7 688.8a7.05 7.05 0 1 0 14.1 0a7.05 7.05 0 1 0 -14.1 0zM565.7 688.4a7.05 7.05 0 1 0 14.1 0a7.05 7.05 0 1 0 -14.1 0zM568.7 687.9a7.05 7.05 0 1 0 14.1 0a7.05 7.05 0 1 0 -14.1 0zM571.8 687.5a7.05 7.05 0 1 0 14.1 0a7.05 7.05 0 1 0 -14.1 0zM574.8 687a7.05 7.05 0 1 0 14.1 0a7.05 7.05 0 1 0 -14.1 0zM577.8 686.6a7.05 7.05 0 1 0 14.1 0a7.05 7.05 0 1 0 -14.1 0zM580.9 686.2a7.05 7.05 0 1 0 14.1 0a7.05 7.05 0 1 0 -14.1 0zM583.9 685.8a7.05 7.05 0 1 0 14.1 0a7.05 7.05 0 1 0 -14.1 0zM586.9 685.4a7.05 7.05 0 1 0 14.1 0a7.05 7.05 0 1 0 -14.1 0zM589.9 685a7.05 7.05 0 1 0 14.1 0a7.05 7.05 0 1 0 -14.1 0zM593 684.6a7.05 7.05 0 1 0 14.1 0a7.05 7.05 0 1 0 -14.1 0zM596 684.1a7.05 7.05 0 1 0 14.1 0a7.05 7.05 0 1 0 -14.1 0zM599 683.7a7.05 7.05 0 1 0 14.1 0a7.05 7.05 0 1 0 -14.1 0zM602 683.3a7.05 7.05 0 1 0 14.1 0a7.05 7.05 0 1 0 -14.1 0zM605.1 682.9a7.05 7.05 0 1 0 14.1 0a7.05 7.05 0 1 0 -14.1 0zM608.1 682.5a7.05 7.05 0 1 0 14.1 0a7.05 7.05 0 1 0 -14.1 0zM611.1 682.1a7.05 7.05 0 1 0 14.1 0a7.05 7.05 0 1 0 -14.1 0zM614.1 681.7a7.05 7.05 0 1 0 14.1 0a7.05 7.05 0 1 0 -14.1 0zM617.2 681.3a7.05 7.05 0 1 0 14.1 0a7.05 7.05 0 1 0 -14.1 0zM620.2 680.8a7.05 7.05 0 1 0 14.1 0a7.05 7.05 0 1 0 -14.1 0zM623.2 680.4a7.05 7.05 0 1 0 14.1 0a7.05 7.05 0 1 0 -14.1 0zM626.2 680a7.05 7.05 0 1 0 14.1 0a7.05 7.05 0 1 0 -14.1 0zM629.3 679.6a7.05 7.05 0 1 0 14.1 0a7.05 7.05 0 1 0 -14.1 0zM632.3 679.2a7.05 7.05 0 1 0 14.1 0a7.05 7.05 0 1 0 -14.1 0zM635.3 678.8a7.05 7.05 0 1 0 14.1 0a7.05 7.05 0 1 0 -14.1 0zM638.3 678.4a7.05 7.05 0 1 0 14.1 0a7.05 7.05 0 1 0 -14.1 0zM641.4 678a7.05 7.05 0 1 0 14.1 0a7.05 7.05 0 1 0 -14.1 0zM644.4 677.6a7.05 7.05 0 1 0 14.1 0a7.05 7.05 0 1 0 -14.1 0zM647.4 677.2a7.05 7.05 0 1 0 14.1 0a7.05 7.05 0 1 0 -14.1 0zM650.4 676.8a7.05 7.05 0 1 0 14.1 0a7.05 7.05 0 1 0 -14.1 0zM653.5 676.4a7.05 7.05 0 1 0 14.1 0a7.05 7.05 0 1 0 -14.1 0zM656.5 676.1a7.05 7.05 0 1 0 14.1 0a7.05 7.05 0 1 0 -14.1 0zM659.5 675.7a7.05 7.05 0 1 0 14.1 0a7.05 7.05 0 1 0 -14.1 0zM662.6 675.3a7.05 7.05 0 1 0 14.1 0a7.05 7.05 0 1 0 -14.1 0zM665.6 675a7.05 7.05 0 1 0 14.1 0a7.05 7.05 0 1 0 -14.1 0zM668.6 674.7a7.05 7.05 0 1 0 14.1 0a7.05 7.05 0 1 0 -14.1 0zM671.6 674.3a7.05 7.05 0 1 0 14.1 0a7.05 7.05 0 1 0 -14.1 0zM674.7 674a7.05 7.05 0 1 0 14.1 0a7.05 7.05 0 1 0 -14.1 0zM677.7 673.7a7.05 7.05 0 1 0 14.1 0a7.05 7.05 0 1 0 -14.1 0zM680.7 673.4a7.05 7.05 0 1 0 14.1 0a7.05 7.05 0 1 0 -14.1 0zM683.7 673a7.05 7.05 0 1 0 14.1 0a7.05 7.05 0 1 0 -14.1 0zM686.8 672.7a7.05 7.05 0 1 0 14.1 0a7.05 7.05 0 1 0 -14.1 0zM689.8 672.4a7.05 7.05 0 1 0 14.1 0a7.05 7.05 0 1 0 -14.1 0zM692.8 672.1a7.05 7.05 0 1 0 14.1 0a7.05 7.05 0 1 0 -14.1 0zM695.8 671.8a7.05 7.05 0 1 0 14.1 0a7.05 7.05 0 1 0 -14.1 0zM698.9 671.5a7.05 7.05 0 1 0 14.1 0a7.05 7.05 0 1 0 -14.1 0zM701.9 671.2a7.05 7.05 0 1 0 14.1 0a7.05 7.05 0 1 0 -14.1 0zM704.9 670.9a7.05 7.05 0 1 0 14.1 0a7.05 7.05 0 1 0 -14.1 0zM707.9 670.6a7.05 7.05 0 1 0 14.1 0a7.05 7.05 0 1 0 -14.1 0zM711 670.3a7.05 7.05 0 1 0 14.1 0a7.05 7.05 0 1 0 -14.1 0zM714 670.1a7.05 7.05 0 1 0 14.1 0a7.05 7.05 0 1 0 -14.1 0zM717 669.8a7.05 7.05 0 1 0 14.1 0a7.05 7.05 0 1 0 -14.1 0zM720 669.5a7.05 7.05 0 1 0 14.1 0a7.05 7.05 0 1 0 -14.1 0zM723.1 669.2a7.05 7.05 0 1 0 14.1 0a7.05 7.05 0 1 0 -14.1 0zM726.1 669a7.05 7.05 0 1 0 14.1 0a7.05 7.05 0 1 0 -14.1 0zM729.1 668.7a7.05 7.05 0 1 0 14.1 0a7.05 7.05 0 1 0 -14.1 0zM732.2 668.5a7.05 7.05 0 1 0 14.1 0a7.05 7.05 0 1 0 -14.1 0z"/>
<path fill="#0000ff" d="M134 1053.2l8.2 15h-16.5zM137 1055.3l8.2 15h-16.5zM140.1 1054.2l8.2 15h-16.5zM143.1 1055l8.2 15h-16.5zM146.1 1055.7l8.2 15h-16.5zM149.1 1054.3l8.2 15h-16.5zM152.2 1054.1l8.2 15h-16.5zM155.2 1052.8l8.2 15h-16.5zM158.2 1053.3l8.2 15h-16.5zM161.2 1053.9l8.2 15h-16.5zM164.3 1054.4l8.2 15h-16.5zM167.3 1054.7l8.2 15h-16.5zM170.3 1053.3l8.2 15h-16.5zM173.3 1052.3l8.2 15h-16.5zM176.4 1052.9l8.2 15h-16.5zM179.4 1054.7l8.2 15h-16.5zM182.4 1052.6l8.2 15h-16.5zM185.4 1053.2l8.2 15h-16.5zM188.5 1054.6l8.2 15h-16.5zM191.5 1051.8l8.2 15h-16.5zM194.5 1053.5l8.2 15h-16.5zM197.5 1054.5l8.2 15h-16.5zM200.6 1052.2l8.2 15h-16.5zM203.6 1053.1l8.2 15h-16.5zM206.6 1054.1l8.2 15h-16.5zM209.7 1051.7l8.2 15h-16.5zM212.7 1052.8l8.2 15h-16.5zM215.7 1053.5l8.2 15h-16.5zM218.7 1053.1l8.2 15h-16.5zM221.8 1052.5l8.2 15h-16.5zM224.8 1051.6l8.2 15h-16.5zM227.8 1049.7l8.2 15h-16.5zM230.8 1046.3l8.2 15h-16.5zM233.9 1043.6l8.2 15h-16.5zM236.9 1042.4l8.2 15h-16.5zM239.9 1043l8.2 15h-16.5zM242.9 1042.7l8.2 15h-16.5zM246 1041.3l8.2 15h-16.5zM249 1042l8.2 15h-16.5zM252 1041l8.2 15h-16.5zM255 1041.5l8.2 15h-16.5zM258.1 1041l8.2 15h-16.5zM261.1 1041.5l8.2 15h-16.5zM264.1 1040.3l8.2 15h-16.5zM267.1 1037.9l8.2 15h-16.5zM270.2 1032.1l8.2 15h-16.5zM273.2 1024.5l8.2 15h-16.5zM276.2 1016.4l8.2 15h-16.5zM279.2 1008.2l8.2 15h-16.5zM282.3 999.9l8.2 15h-16.5zM285.3 991.7l8.2 15h-16.5zM288.3 983.4l8.2 15h-16.5zM291.4 975.2l8.2 15h-16.5zM294.4 967l8.2 15h-16.5zM297.4 958.7l8.2 15h-16.5zM300.4 950.3l8.2 15h-16.5zM303.5 941.9l8.2 15h-16.5zM306.5 933.3l8.2 15h-16.5zM309.5 924.8l8.2 15h-16.5zM312.5 916.2l8.2 15h-16.5zM315.6 907.7l8.2 15h-16.5zM318.6 899.1l8.2 15h-16.5zM321.6 890.3l8.2 15h-16.5zM324.6 881.4l8.2 15h-16.5zM327.7 872.5l8.2 15h-16.5zM330.7 863.5l8.2 15h-16.5zM333.7 854.7l8.2 15h-16.5zM336.7 845.9l8.2 15h-16.5zM339.8 837.4l8.2 15h-16.5zM342.8 829.1l8.2 15h-16.5zM345.8 821.1l8.2 15h-16.5zM348.8 813.5l8.2 15h-16.5zM351.9 806.1l8.2 15h-16.5zM354.9 798.8l8.2 15h-16.5zM357.9 791.8l8.2 15h-16.5zM361 785.2l8.2 15h-16.5zM364 779.1l8.2 15h-16.5zM367 773.7l8.2 15h-16.5zM370 768.7l8.2 15h-16.5zM373.1 764l8.2 15h-16.5zM376.1 759.6l8.2 15h-16.5zM379.1 755.5l8.2 15h-16.5zM382.1 751.9l8.2 15h-16.5zM385.2 748.7l8.2 15h-16.5zM388.2 745.9l8.2 15h-16.5zM391.2 743.5l8.2 15h-16.5zM394.2 741.4l8.2 15h-16.5zM397.3 739.3l8.2 15h-16.5zM400.3 737.3l8.2 15h-16.5zM403.3 735.1l8.2 15h-16.5zM406.3 733l8.2 15h-16.5zM409.4 730.9l8.2 15h-16.5zM412.4 728.8l8.2 15h-16.5zM415.4 726.5l8.2 15h-16.5zM418.4 724.3l8.2 15h-16.5zM421.5 722.4l8.2 15h-16.5zM424.5 720.7l8.2 15h-16.5zM427.5 719.2l8.2 15h-16.5zM430.5 717.7l8.2 15h-16.5zM433.6 716.3l8.2 15h-16.5zM436.6 714.8l8.2 15h-16.5zM439.6 713.3l8.2 15h-16.5zM442.7 711.9l8.2 15h-16.5zM445.7 710.4l8.2 15h-16.5zM448.7 709l8.2 15h-16.5zM451.7 707.6l8.2 15h-16.5zM454.8 706.3l8.2 15h-16.5zM457.8 705l8.2 15h-16.5zM460.8 703.8l8.2 15h-16.5zM463.8 702.6l8.2 15h-16.5zM466.9 701.5l8.2 15h-16.5zM469.9 700.5l8.2 15h-16.5zM472.9 699.5l8.2 15h-16.5zM475.9 698.6l8.2 15h-16.5zM479 697.7l8.2 15h-16.5zM482 696.8l8.2 15h-16.5zM485 695.9l8.2 15h-16.5zM488 695.1l8.2 15h-16.5zM491.1 694.3l8.2 15h-16.5zM494.1 693.5l8.2 15h-16.5zM497.1 692.8l8.2 15h-16.5zM500.1 692l8.2 15h-16.5zM503.2 691.3l8.2 15h-16.5zM506.2 690.6l8.2 15h-16.5zM509.2 689.9l8.2 15h-16.5zM512.2 689.2l8.2 15h-16.5zM515.3 688.5l8.2 15h-16.5zM518.3 687.8l8.2 15h-16.5zM521.3 687.1l8.2 15h-16.5zM524.4 686.4l8.2 15h-16.5zM527.4 685.8l8.2 15h-16.5zM530.4 685.2l8.2 15h-16.5zM533.4 684.6l8.2 15h-16.5zM536.5 683.9l8.2 15h-16.5zM539.5 683.4l8.2 15h-16.5zM542.5 682.8l8.2 15h-16.5zM545.5 682.2l8.2 15h-16.5zM548.6 681.7l8.2 15h-16.5zM551.6 681.1l8.2 15h-16.5zM554.6 680.6l8.2 15h-16.5zM557.6 680.1l8.2 15h-16.5zM560.7 679.6l8.2 15h-16.5zM563.7 679.1l8.2 15h-16.5zM566.7 678.6l8.2 15h-16.5zM569.7 678.2l8.2 15h-16.5zM572.8 677.7l8.2 15h-16.5zM575.8 677.3l8.2 15h-16.5zM578.8 676.8l8.2 15h-16.5zM581.8 676.4l8.2 15h-16.5zM584.9 676l8.2 15h-16.5zM587.9 675.6l8.2 15h-16.5zM590.9 675.1l8.2 15h-16.5zM594 674.7l8.2 15h-16.5zM597 674.3l8.2 15h-16.5zM600 673.9l8.2 15h-16.5zM603 673.5l8.2 15h-16.5zM606.1 673.1l8.2 15h-16.5zM609.1 672.7l8.2 15h-16.5zM612.1 672.3l8.2 15h-16.5zM615.1 671.9l8.2 15h-16.5zM618.2 671.5l8.2 15h-16.5zM621.2 671.1l8.2 15h-16.5zM624.2 670.7l8.2 15h-16.5zM627.2 670.3l8.2 15h-16.5zM630.3 669.9l8.2 15h-16.5zM633.3 669.5l8.2 15h-16.5zM636.3 669.1l8.2 15h-16.5zM639.3 668.7l8.2 15h-16.5zM642.4 668.3l8.2 15h-16.5zM645.4 667.9l8.2 15h-16.5zM648.4 667.5l8.2 15h-16.5zM651.4 667.1l8.2 15h-16.5zM654.5 666.7l8.2 15h-16.5zM657.5 666.4l8.2 15h-16.5zM660.5 666l8.2 15h-16.5zM663.6 665.7l8.2 15h-16.5zM666.6 665.4l8.2 15h-16.5zM669.6 665l8.2 15h-16.5zM672.6 664.7l8.2 15h-16.5zM675.7 664.4l8.2 15h-16.5zM678.7 664.1l8.2 15h-16.5zM681.7 663.8l8.2 15h-16.5zM684.7 663.6l8.2 15h-16.5zM687.8 663.3l8.2 15h-16.5zM690.8 663l8.2 15h-16.5zM693.8 662.7l8.2 15h-16.5zM696.8 662.5l8.2 15h-16.5zM699.9 662.2l8.2 15h-16.5zM702.9 662l8.2 15h-16.5zM705.9 661.7l8.2 15h-16.5zM708.9 661.5l8.2 15h-16.5zM712 661.2l8.2 15h-16.5zM715 661l8.2 15h-16.5zM718 660.7l8.2 15h-16.5zM721 660.5l8.2 15h-16.5zM724.1 660.3l8.2 15h-16.5zM727.1 660l8.2 15h-16.5zM730.1 659.8l8.2 15h-16.5zM733.1 659.6l8.2 15h-16.5zM736.2 659.3l8.2 15h-16.5zM739.2 659.1l8.2 15h-16.5z"/>
<path fill="#008000" d="M134 1045.6l8.9 8.9l-8.9 8.9l-8.9 -8.9zM137 1045.6l8.9 8.9l-8.9 8.9l-8.9 -8.9zM140.1 1045.6l8.9 8.9l-8.9 8.9l-8.9 -8.9zM143.1 1045.6l8.9 8.9l-8.9 8.9l-8.9 -8.9zM146.1 1045.6l8.9 8.9l-8.9 8.9l-8.9 -8.9zM149.1 1045.6l8.9 8.9l-8.9 8.9l-8.9 -8.9zM152.2 1045.6l8.9 8.9l-8.9 8.9l-8.9 -8.9zM155.2 1045.6l8.9 8.9l-8.9 8.9l-8.9 -8.9zM158.2 1045.6l8.9 8.9l-8.9 8.9l-8.9 -8.9zM161.2 1045.6l8.9 8.9l-8.9 8.9l-8.9 -8.9zM164.3 1045.6l8.9 8.9l-8.9 8.9l-8.9 -8.9zM167.3 1045.6l8.9 8.9l-8.9 8.9l-8.9 -8.9zM170.3 1045.6l8.9 8.9l-8.9 8.9l-8.9 -8.9zM173.3 1045.6l8.9 8.9l-8.9 8.9l-8.9 -8.9zM176.4 1045.6l8.9 8.9l-8.9 8.9l-8.9 -8.9zM179.4 1045.6l8.9 8.9l-8.9 8.9l-8.9 -8.9zM182.4 1045.6l8.9 8.9l-8.9 8.9l-8.9 -8.9zM185.4 1045.6l8.9 8.9l-8.9 8.9l-8.9 -8.9zM188.5 1045.6l8.9 8.9l-8.9 8.9l-8.9 -8.9zM191.5 1045.6l8.9 8.9l-8.9 8.9l-8.9 -8.9zM194.5 1045.6l8.9 8.9l-8.9 8.9l-8.9 -8.9zM197.5 1045.6l8.9 8.9l-8.9 8.9l-8.9 -8.9zM200.6 1045.6l8.9 8.9l-8.9 8.9l-8.9 -8.9zM203.6 1045.6l8.9 8.9l-8.9 8.9l-8.9 -8.9zM206.6 1045.6l8.9 8.9l-8.9 8.9l-8.9 -8.9zM209.7 1045.6l8.9 8.9l-8.9 8.9l-8.9 -8.9zM212.7 1045.6l8.9 8.9l-8.9 8.9l-8.9 -8.9zM215.7 1045.6l8.9 8.9l-8.9 8.9l-8.9 -8.9zM218.7 1045.6l8.9 8.9l-8.9 8.9l-8.9 -8.9zM221.8 1045.6l8.9 8.9l-8.9 8.9l-8.9 -8.9zM224.8 1045.6l8.9 8.9l-8.9 8.9l-8.9 -8.9zM227.8 1045.6l8.9 8.9l-8.9 8.9l-8.9 -8.9zM230.8 1045.6l8.9 8.9l-8.9 8.9l-8.9 -8.9zM134 1040.6l8.9 8.9l-8.9 8.9l-8.9 -8.9zM137 1039l8.9 8.9l-8.9 8.9l-8.9 -8.9zM140.1 1036.6l8.9 8.9l-8.9 8.9l-8.9 -8.9zM143.1 1036.9l8.9 8.9l-8.9 8.9l-8.9 -8.9zM146.1 1037.4l8.9 8.9l-8.9 8.9l-8.9 -8.9zM149.1 1038l8.9 8.9l-8.9 8.9l-8.9 -8.9zM152.2 1037.4l8.9 8.9l-8.9 8.9l-8.9 -8.9zM155.2 1034.9l8.9 8.9l-8.9 8.9l-8.9 -8.9zM158.2 1033.1l8.9 8.9l-8.9 8.9l-8.9 -8.9zM161.2 1030.9l8.9 8.9l-8.9 8.9l-8.9 -8.9zM164.3 1029.2l8.9 8.9l-8.9 8.9l-8.9 -8.9zM167.3 1028.8l8.9 8.9l-8.9 8.9l-8.9 -8.9zM170.3 1030.6l8.9 8.9l-8.9 8.9l-8.9 -8.9zM173.3 1031.1l8.9 8.9l-8.9 8.9l-8.9 -8.9zM176.4 1031.1l8.9 8.9l-8.9 8.9l-8.9 -8.9zM179.4 1030.6l8.9 8.9l-8.9 8.9l-8.9 -8.9zM182.4 1031.4l8.9 8.9l-8.9 8.9l-8.9 -8.9zM185.4 1036.4l8.9 8.9l-8.9 8.9l-8.9 -8.9zM188.5 1036.2l8.9 8.9l-8.9 8.9l-8.9 -8.9zM191.5 1038.1l8.9 8.9l-8.9 8.9l-8.9 -8.9zM194.5 1036.6l8.9 8.9l-8.9 8.9l-8.9 -8.9zM197.5 1038.8l8.9 8.9l-8.9 8.9l-8.9 -8.9zM200.6 1033.8l8.9 8.9l-8.9 8.9l-8.9 -8.9zM203.6 1035.8l8.9 8.9l-8.9 8.9l-8.9 -8.9zM206.6 1036.3l8.9 8.9l-8.9 8.9l-8.9 -8.9zM209.7 1034.6l8.9 8.9l-8.9 8.9l-8.9 -8.9zM212.7 1032.9l8.9 8.9l-8.9 8.9l-8.9 -8.9zM215.7 1033.5l8.9 8.9l-8.9 8.9l-8.9 -8.9zM218.7 1030l8.9 8.9l-8.9 8.9l-8.9 -8.9zM221.8 1031.2l8.9 8.9l-8.9 8.9l-8.9 -8.9zM224.8 1028.5l8.9 8.9l-8.9 8.9l-8.9 -8.9zM227.8 1030.4l8.9 8.9l-8.9 8.9l-8.9 -8.9zM230.8 1028.1l8.9 8.9l-8.9 8.9l-8.9 -8.9zM233.9 1021.8l8.9 8.9l-8.9 8.9l-8.9 -8.9zM236.9 1013.5l8.9 8.9l-8.9 8.9l-8.9 -8.9zM239.9 1004.9l8.9 8.9l-8.9 8.9l-8.9 -8.9zM242.9 996.2l8.9 8.9l-8.9 8.9l-8.9 -8.9zM246 987.3l8.9 8.9l-8.9 8.9l-8.9 -8.9zM249 978.4l8.9 8.9l-8.9 8.9l-8.9 -8.9zM252 969.2l8.9 8.9l-8.9 8.9l-8.9 -8.9zM255 959.9l8.9 8.9l-8.9 8.9l-8.9 -8.9zM258.1 950.7l8.9 8.9l-8.9 8.9l-8.9 -8.9zM261.1 941.6l8.9 8.9l-8.9 8.9l-8.9 -8.9zM264.1 933l8.9 8.9l-8.9 8.9l-8.9 -8.9zM267.1 924.5l8.9 8.9l-8.9 8.9l-8.9 -8.9zM270.2 916.3l8.9 8.9l-8.9 8.9l-8.9 -8.9zM273.2 908.2l8.9 8.9l-8.9 8.9l-8.9 -8.9zM276.2 900.2l8.9 8.9l-8.9 8.9l-8.9 -8.9zM279.2 892.4l8.9 8.9l-8.9 8.9l-8.9 -8.9zM282.3 884.6l8.9 8.9l-8.9 8.9l-8.9 -8.9zM285.3 876.8l8.9 8.9l-8.9 8.9l-8.9 -8.9zM288.3 869l8.9 8.9l-8.9 8.9l-8.9 -8.9zM291.4 861.3l8.9 8.9l-8.9 8.9l-8.9 -8.9zM294.4 853.5l8.9 8.9l-8.9 8.9l-8.9 -8.9zM297.4 845.7l8.9 8.9l-8.9 8.9l-8.9 -8.9zM300.4 837.9l8.9 8.9l-8.9 8.9l-8.9 -8.9zM303.5 830.1l8.9 8.9l-8.9 8.9l-8.9 -8.9zM306.5 822.4l8.9 8.9l-8.9 8.9l-8.9 -8.9zM309.5 814.5l8.9 8.9l-8.9 8.9l-8.9 -8.9zM312.5 807.3l8.9 8.9l-8.9 8.9l-8.9 -8.9zM315.6 801.2l8.9 8.9l-8.9 8.9l-8.9 -8.9zM318.6 795.6l8.9 8.9l-8.9 8.9l-8.9 -8.9zM321.6 789.7l8.9 8.9l-8.9 8.9l-8.9 -8.9zM324.6 783.9l8.9 8.9l-8.9 8.9l-8.9 -8.9zM327.7 778.6l8.9 8.9l-8.9 8.9l-8.9 -8.9zM330.7 773.7l8.9 8.9l-8.9 8.9l-8.9 -8.9zM333.7 769l8.9 8.9l-8.9 8.9l-8.9 -8.9zM336.7 764.3l8.9 8.9l-8.9 8.9l-8.9 -8.9zM339.8 759.9l8.9 8.9l-8.9 8.9l-8.9 -8.9zM342.8 756.1l8.9 8.9l-8.9 8.9l-8.9 -8.9zM345.8 752.6l8.9 8.9l-8.9 8.9l-8.9 -8.9zM348.8 749.3l8.9 8.9l-8.9 8.9l-8.9 -8.9zM351.9 746.2l8.9 8.9l-8.9 8.9l-8.9 -8.9zM354.9 743.1l8.9 8.9l-8.9 8.9l-8.9 -8.9zM357.9 740.2l8.9 8.9l-8.9 8.9l-8.9 -8.9zM361 737.4l8.9 8.9l-8.9 8.9l-8.9 -8.9zM364 734.6l8.9 8.9l-8.9 8.9l-8.9 -8.9zM367 731.8l8.9 8.9l-8.9 8.9l-8.9 -8.9zM370 729.4l8.9 8.9l-8.9 8.9l-8.9 -8.9zM373.1 727.2l8.9 8.9l-8.9 8.9l-8.9 -8.9zM376.1 725.2l8.9 8.9l-8.9 8.9l-8.9 -8.9zM379.1 723.4l8.9 8.9l-8.9 8.9l-8.9 -8.9zM382.1 721.6l8.9 8.9l-8.9 8.9l-8.9 -8.9zM385.2 719.9l8.9 8.9l-8.9 8.9l-8.9 -8.9zM388.2 718.3l8.9 8.9l-8.9 8.9l-8.9 -8.9zM391.2 716.7l8.9 8.9l-8.9 8.9l-8.9 -8.9zM394.2 715.1l8.9 8.9l-8.9 8.9l-8.9 -8.9zM397.3 713.6l8.9 8.9l-8.9 8.9l-8.9 -8.9zM400.3 712.2l8.9 8.9l-8.9 8.9l-8.9 -8.9zM403.3 710.8l8.9 8.9l-8.9 8.9l-8.9 -8.9zM406.3 709.5l8.9 8.9l-8.9 8.9l-8.9 -8.9zM409.4 708.2l8.9 8.9l-8.9 8.9l-8.9 -8.9zM412.4 706.9l8.9 8.9l-8.9 8.9l-8.9 -8.9zM415.4 705.7l8.9 8.9l-8.9 8.9l-8.9 -8.9zM418.4 704.5l8.9 8.9l-8.9 8.9l-8.9 -8.9zM421.5 703.4l8.9 8.9l-8.9 8.9l-8.9 -8.9zM424.5 702.2l8.9 8.9l-8.9 8.9l-8.9 -8.9zM427.5 701.2l8.9 8.9l-8.9 8.9l-8.9 -8.9zM430.5 700.1l8.9 8.9l-8.9 8.9l-8.9 -8.9zM433.6 699.1l8.9 8.9l-8.9 8.9l-8.9 -8.9zM436.6 698.1l8.9 8.9l-8.9 8.9l-8.9 -8.9zM439.6 697.2l8.9 8.9l-8.9 8.9l-8.9 -8.9zM442.7 696.3l8.9 8.9l-8.9 8.9l-8.9 -8.9zM445.7 695.4l8.9 8.9l-8.9 8.9l-8.9 -8.9zM448.7 694.5l8.9 8.9l-8.9 8.9l-8.9 -8.9zM451.7 693.6l8.9 8.9l-8.9 8.9l-8.9 -8.9zM454.8 692.7l8.9 8.9l-8.9 8.9l-8.9 -8.9zM457.8 691.9l8.9 8.9l-8.9 8.9l-8.9 -8.9zM460.8 691l8.9 8.9l-8.9 8.9l-8.9 -8.9zM463.8 690.2l8.9 8.9l-8.9 8.9l-8.9 -8.9zM466.9 689.4l8.9 8.9l-8.9 8.9l-8.9 -8.9zM469.9 688.7l8.9 8.9l-8.9 8.9l-8.9 -8.9zM472.9 687.9l8.9 8.9l-8.9 8.9l-8.9 -8.9zM475.9 687.2l8.9 8.9l-8.9 8.9l-8.9 -8.9zM479 686.5l8.9 8.9l-8.9 8.9l-8.9 -8.9zM482 685.9l8.9 8.9l-8.9 8.9l-8.9 -8.9zM485 685.3l8.9 8.9l-8.9 8.9l-8.9 -8.9zM488 684.6l8.9 8.9l-8.9 8.9l-8.9 -8.9zM491.1 684l8.9 8.9l-8.9 8.9l-8.9 -8.9zM494.1 683.5l8.9 8.9l-8.9 8.9l-8.9 -8.9zM497.1 682.9l8.9 8.9l-8.9 8.9l-8.9 -8.9zM500.1 682.4l8.9 8.9l-8.9 8.9l-8.9 -8.9zM503.2 681.9l8.9 8.9l-8.9 8.9l-8.9 -8.9zM506.2 681.4l8.9 8.9l-8.9 8.9l-8.9 -8.9zM509.2 680.9l8.9 8.9l-8.9 8.9l-8.9 -8.9zM512.2 680.4l8.9 8.9l-8.9 8.9l-8.9 -8.9zM515.3 680l8.9 8.9l-8.9 8.9l-8.9 -8.9zM518.3 679.5l8.9 8.9l-8.9 8.9l-8.9 -8.9zM521.3 679.1l8.9 8.9l-8.9 8.9l-8.9 -8.9zM524.4 678.7l8.9 8.9l-8.9 8.9l-8.9 -8.9zM527.4 678.2l8.9 8.9l-8.9 8.9l-8.9 -8.9zM530.4 677.8l8.9 8.9l-8.9 8.9l-8.9 -8.9zM533.4 677.4l8.9 8.9l-8.9 8.9l-8.9 -8.9zM536.5 677l8.9 8.9l-8.9 8.9l-8.9 -8.9zM539.5 676.6l8.9 8.9l-8.9 8.9l-8.9 -8.9zM542.5 676.2l8.9 8.9l-8.9 8.9l-8.9 -8.9zM545.5 675.8l8.9 8.9l-8.9 8.9l-8.9 -8.9zM548.6 675.3l8.9 8.9l-8.9 8.9l-8.9 -8.9zM551.6 674.9l8.9 8.9l-8.9 8.9l-8.9 -8.9zM554.6 674.5l8.9 8.9l-8.9 8.9l-8.9 -8.9zM557.6 674.1l8.9 8.9l-8.9 8.9l-8.9 -8.9zM560.7 673.7l8.9 8.9l-8.9 8.9l-8.9 -8.9zM563.7 673.2l8.9 8.9l-8.9 8.9l-8.9 -8.9zM566.7 672.8l8.9 8.9l-8.9 8.9l-8.9 -8.9zM569.7 672.4l8.9 8.9l-8.9 8.9l-8.9 -8.9zM572.8 672l8.9 8.9l-8.9 8.9l-8.9 -8.9zM575.8 671.5l8.9 8.9l-8.9 8.9l-8.9 -8.9zM578.8 671.1l8.9 8.9l-8.9 8.9l-8.9 -8.9zM581.8 670.7l8.9 8.9l-8.9 8.9l-8.9 -8.9zM584.9 670.3l8.9 8.9l-8.9 8.9l-8.9 -8.9zM587.9 669.9l8.9 8.9l-8.9 8.9l-8.9 -8.9zM590.9 669.4l8.9 8.9l-8.9 8.9l-8.9 -8.9zM594 669l8.9 8.9l-8.9 8.9l-8.9 -8.9zM597 668.6l8.9 8.9l-8.9 8.9l-8.9 -8.9zM600 668.3l8.9 8.9l-8.9 8.9l-8.9 -8.9zM603 667.9l8.9 8.9l-8.9 8.9l-8.9 -8.9zM606.1 667.5l8.9 8.9l-8.9 8.9l-8.9 -8.9zM609.1 667.2l8.9 8.9l-8.9 8.9l-8.9 -8.9zM612.1 666.8l8.9 8.9l-8.9 8.9l-8.9 -8.9zM615.1 666.5l8.9 8.9l-8.9 8.9l-8.9 -8.9zM618.2 666.1l8.9 8.9l-8.9 8.9l-8.9 -8.9zM621.2 665.8l8.9 8.9l-8.9 8.9l-8.9 -8.9zM624.2 665.5l8.9 8.9l-8.9 8.9l-8.9 -8.9zM627.2 665.2l8.9 8.9l-8.9 8.9l-8.9 -8.9zM630.3 664.9l8.9 8.9l-8.9 8.9l-8.9 -8.9zM633.3 664.6l8.9 8.9l-8.9 8.9l-8.9 -8.9zM636.3 664.3l8.9 8.9l-8.9 8.9l-8.9 -8.9zM639.3 664.1l8.9 8.9l-8.9 8.9l-8.9 -8.9zM642.4 663.8l8.9 8.9l-8.9 8.9l-8.9 -8.9zM645.4 663.5l8.9 8.9l-8.9 8.9l-8.9 -8.9zM648.4 663.3l8.9 8.9l-8.9 8.9l-8.9 -8.9zM651.4 663l8.9 8.9l-8.9 8.9l-8.9 -8.9zM654.5 662.8l8.9 8.9l-8.9 8.9l-8.9 -8.9zM657.5 662.5l8.9 8.9l-8.9 8.9l-8.9 -8.9zM660.5 662.3l8.9 8.9l-8.9 8.9l-8.9 -8.9zM663.6 662l8.9 8.9l-8.9 8.9l-8.9 -8.9zM666.6 661.8l8.9 8.9l-8.9 8.9l-8.9 -8.9zM669.6 661.5l8.9 8.9l-8.9 8.9l-8.9 -8.9zM672.6 661.3l8.9 8.9l-8.9 8.9l-8.9 -8.9zM675.7 661.1l8.9 8.9l-8.9 8.9l-8.9 -8.9zM678.7 660.8l8.9 8.9l-8.9 8.9l-8.9 -8.9zM681.7 660.6l8.9 8.9l-8.9 8.9l-8.9 -8.9zM684.7 660.4l8.9 8.9l-8.9 8.9l-8.9 -8.9zM687.8 660.2l8.9 8.9l-8.9 8.9l-8.9 -8.9zM690.8 660l8.9 8.9l-8.9 8.9l-8.9 -8.9zM693.8 659.8l8.9 8.9l-8.9 8.9l-8.9 -8.9zM696.8 659.5l8.9 8.9l-8.9 8.9l-8.9 -8.9zM699.9 659.3l8.9 8.9l-8.9 8.9l-8.9 -8.9zM702.9 659.1l8.9 8.9l-8.9 8.9l-8.9 -8.9zM705.9 658.9l8.9 8.9l-8.9 8.9l-8.9 -8.9zM708.9 658.7l8.9 8.9l-8.9 8.9l-8.9 -8.9zM712 658.5l8.9 8.9l-8.9 8.9l-8.9 -8.9zM715 658.3l8.9 8.9l-8.9 8.9l-8.9 -8.9zM718 658.1l8.9 8.9l-8.9 8.9l-8.9 -8.9zM721 657.9l8.9 8.9l-8.9 8.9l-8.9 -8.9zM724.1 657.7l8.9 8.9l-8.9 8.9l-8.9 -8.9zM727.1 657.6l8.9 8.9l-8.9 8.9l-8.9 -8.9zM730.1 657.4l8.9 8.9l-8.9 8.9l-8.9 -8.9zM733.1 657.2l8.9 8.9l-8.9 8.9l-8.9 -8.9zM736.2 657l8.9 8.9l-8.9 8.9l-8.9 -8.9zM739.2 656.8l8.9 8.9l-8.9 8.9l-8.9 -8.9z"/>
</g>
<text x="166" y="640" font-size="33.5">(b)</text>
<g font-size="28.5">
<text x="147.2" y="681">Gate bias application:</text>
<text x="155.3" y="715.3">V</text><text x="173.2" y="723" font-size="20">G</text><text x="194.9" y="715.3">=</text><text x="220.3" y="715.3">-25</text><text x="264.5" y="715.3">V</text>
<text x="146.7" y="749.6">(V<tspan font-size="19.5" dy="7">S</tspan><tspan dy="-7">=V</tspan><tspan font-size="19.5" dy="7">D</tspan><tspan dy="-7">=0V)</tspan></text>
<text x="147.4" y="794">Injection time</text>
<text x="147.6" y="828.6">0, 0.1,</text>
<text x="149.4" y="863.2">1, 10 s</text>
</g>
<path d="M418.4 863.7H273V845.5L242.3 876.1L273 906.7V888.4H418.4z" fill="#000"/>
<g fill="none" stroke="#000" stroke-width="4" stroke-linejoin="round">
<path d="M510 760.3L538.2 788V950.1L510 921.3z"/>
<path d="M630 821L646 837V995.9L630 978.8z"/>
<path d="M538.2 826.4L630 855.7M538.2 925.6L630 956.4" stroke-width="4.2"/>
<path d="M470.5 826.4H512" stroke-width="4.2"/>
<path d="M646 897.7C651 902 655 905.2 664 905.2H700.2M646 917C651 921.5 655 924.8 664 924.8H700.2" stroke-width="4"/>
<circle cx="591.6" cy="899.4" r="6.3" stroke-width="4.3"/><circle cx="659.6" cy="940" r="6.3" stroke-width="4.3"/>
</g>
<g stroke="#f00" stroke-width="4" fill="#f00">
<path d="M649.6 940.4H604" fill="none"/><path d="M593.8 940.4L606.5 934V946.8z" stroke="none"/>
<path d="M591.6 943.6V918" fill="none"/><path d="M591.6 908.8L585.2 920.1H598z" stroke="none"/>
</g>
<g font-size="24">
<text x="446.5" y="865.9">TiN</text>
<text x="543.7" y="973">SiN</text>
<text x="457" y="979.3">SiO<tspan font-size="16.5" dy="6.5">2</tspan></text>
<text x="617.5" y="1015.3">SiO<tspan font-size="16.5" dy="6.5">2</tspan></text>
<text x="656.8" y="871.5">LTPS</text>
</g>
</svg></body></html>
